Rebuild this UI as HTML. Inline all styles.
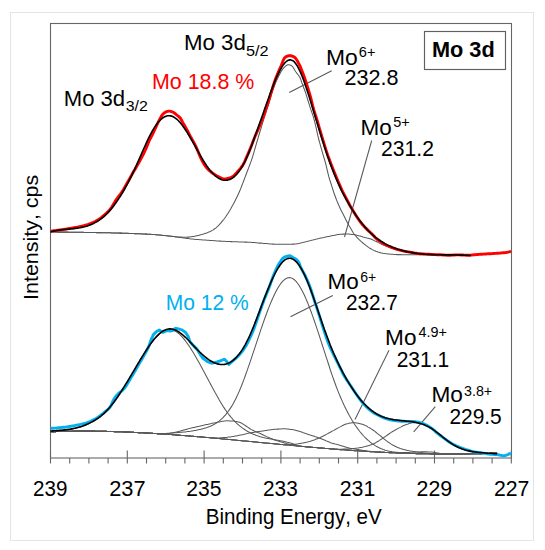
<!DOCTYPE html><html><head><meta charset="utf-8"><style>html,body{margin:0;padding:0;background:#fff;width:545px;height:550px;overflow:hidden}svg{position:absolute;left:0;top:0;display:block}text{font-family:"Liberation Sans",sans-serif;font-kerning:none;white-space:pre}</style></head><body><svg width="545" height="550" viewBox="0 0 545 550"><rect x="10.5" y="12.5" width="523" height="528" fill="none" stroke="#e4e4e4" stroke-width="1"/><rect x="50.5" y="23.5" width="461" height="434.5" fill="none" stroke="#666666" stroke-width="1.1"/><path d="M50.5,450.5V463.5M69.7,458V463.5M88.9,458V463.5M108.1,458V463.5M127.3,450.5V463.5M146.5,458V463.5M165.7,458V463.5M184.9,458V463.5M204.1,450.5V463.5M223.3,458V463.5M242.5,458V463.5M261.7,458V463.5M280.9,450.5V463.5M300.1,458V463.5M319.3,458V463.5M338.5,458V463.5M357.7,450.5V463.5M376.9,458V463.5M396.1,458V463.5M415.3,458V463.5M434.5,450.5V463.5M453.7,458V463.5M472.9,458V463.5M492.1,458V463.5M511.3,450.5V463.5" stroke="#666666" stroke-width="1.1" fill="none"/><path d="M50.5,232.0L51.5,232.0L52.5,232.0L53.5,232.0L54.5,232.0L55.5,232.0L56.5,232.0L57.5,232.1L58.5,232.1L59.5,232.1L60.5,232.1L61.5,232.1L62.5,232.1L63.5,232.1L64.5,232.1L65.5,232.1L66.5,232.1L67.5,232.1L68.5,232.2L69.5,232.2L70.5,232.2L71.5,232.2L72.5,232.2L73.5,232.2L74.5,232.2L75.5,232.2L76.5,232.3L77.5,232.3L78.5,232.3L79.5,232.3L80.5,232.3L81.5,232.3L82.5,232.3L83.5,232.3L84.5,232.4L85.5,232.4L86.5,232.4L87.5,232.4L88.5,232.4L89.5,232.4L90.5,232.5L91.5,232.5L92.5,232.5L93.6,232.5L94.6,232.5L95.6,232.5L96.6,232.6L97.6,232.6L98.6,232.6L99.6,232.6L100.6,232.6L101.6,232.6L102.6,232.7L103.6,232.7L104.6,232.7L105.6,232.7L106.6,232.8L107.6,232.8L108.6,232.8L109.6,232.8L110.6,232.8L111.6,232.9L112.6,232.9L113.6,232.9L114.6,232.9L115.6,233.0L116.6,233.0L117.6,233.0L118.6,233.0L119.6,233.1L120.6,233.1L121.6,233.1L122.6,233.2L123.6,233.2L124.6,233.2L125.6,233.2L126.6,233.3L127.6,233.3L128.6,233.3L129.6,233.4L130.6,233.4L131.6,233.5L132.6,233.5L133.6,233.5L134.6,233.6L135.6,233.6L136.6,233.6L137.6,233.7L138.6,233.7L139.6,233.8L140.6,233.8L141.6,233.9L142.6,233.9L143.6,234.0L144.6,234.0L145.6,234.1L146.6,234.1L147.6,234.2L148.6,234.2L149.6,234.3L150.6,234.3L151.6,234.4L152.6,234.5L153.6,234.5L154.6,234.6L155.6,234.7L156.6,234.8L157.6,234.9L158.6,235.0L159.6,235.1L160.6,235.2L161.6,235.3L162.6,235.4L163.6,235.5L164.6,235.6L165.6,235.7L166.6,235.8L167.6,235.9L168.6,236.0L169.6,236.2L170.6,236.3L171.6,236.4L172.6,236.5L173.6,236.6L174.6,236.8L175.6,236.9L176.7,237.1L177.7,237.2L178.7,237.3L179.7,237.5L180.7,237.6L181.7,237.7L182.7,237.8L183.7,238.0L184.7,238.1L185.7,238.3L186.7,238.4L187.7,238.5L188.7,238.6L189.7,238.8L190.7,238.9L191.7,239.0L192.7,239.1L193.7,239.2L194.7,239.3L195.7,239.4L196.7,239.4L197.7,239.5L198.7,239.6L199.7,239.7L200.7,239.7L201.7,239.8L202.7,239.9L203.7,240.0L204.7,240.0L205.7,240.1L206.7,240.2L207.7,240.2L208.7,240.3L209.7,240.4L210.7,240.5L211.7,240.5L212.7,240.6L213.7,240.7L214.7,240.8L215.7,240.8L216.7,240.9L217.7,241.0L218.7,241.0L219.7,241.1L220.7,241.1L221.7,241.2L222.7,241.2L223.7,241.3L224.7,241.3L225.7,241.4L226.7,241.4L227.7,241.4L228.7,241.5L229.7,241.5L230.7,241.6L231.7,241.6L232.7,241.7L233.7,241.7L234.7,241.7L235.7,241.8L236.7,241.8L237.7,241.8L238.7,241.9L239.7,241.9L240.7,241.9L241.7,242.0L242.7,242.0L243.7,242.0L244.7,242.1L245.7,242.1L246.7,242.1L247.7,242.2L248.7,242.2L249.7,242.3L250.7,242.3L251.7,242.4L252.7,242.5L253.7,242.5L254.7,242.6L255.7,242.7L256.7,242.8L257.7,242.9L258.7,243.0L259.7,243.1L260.8,243.1L261.8,243.2L262.8,243.3L263.8,243.4L264.8,243.5L265.8,243.5L266.8,243.6L267.8,243.7L268.8,243.8L269.8,243.9L270.8,244.0L271.8,244.0L272.8,244.1L273.8,244.1L274.8,244.2L275.8,244.2L276.8,244.2L277.8,244.2L278.8,244.2L279.8,244.3L280.8,244.3L281.8,244.3L282.8,244.3L283.8,244.3L284.8,244.3L285.8,244.3L286.8,244.3L287.8,244.3L288.8,244.3L289.8,244.3L290.8,244.3L291.8,244.2L292.8,244.1L293.8,244.1L294.8,244.0L295.8,243.9L296.8,243.8L297.8,243.7L298.8,243.5L299.8,243.3L300.8,243.0L301.8,242.8L302.8,242.6L303.8,242.3L304.8,242.0L305.8,241.8L306.8,241.5L307.8,241.3L308.8,241.1L309.8,240.8L310.8,240.6L311.8,240.3L312.8,240.1L313.8,239.8L314.8,239.6L315.8,239.3L316.8,239.1L317.8,238.8L318.8,238.6L319.8,238.3L320.8,238.1L321.8,237.9L322.8,237.7L323.8,237.5L324.8,237.2L325.8,237.0L326.8,236.8L327.8,236.6L328.8,236.4L329.8,236.2L330.8,236.0L331.8,235.8L332.8,235.6L333.8,235.4L334.8,235.2L335.8,235.0L336.8,234.8L337.8,234.6L338.8,234.4L339.8,234.3L340.8,234.3L341.8,234.2L342.8,234.1L343.8,234.1L344.9,234.0L345.9,234.0L346.9,234.0L347.9,234.0L348.9,234.1L349.9,234.2L350.9,234.3L351.9,234.4L352.9,234.5L353.9,234.6L354.9,234.8L355.9,235.0L356.9,235.3L357.9,235.5L358.9,235.8L359.9,236.0L360.9,236.3L361.9,236.6L362.9,237.0L363.9,237.3L364.9,237.6L365.9,237.8L366.9,238.1L367.9,238.3L368.9,238.5L369.9,238.8L370.9,239.1L371.9,239.5L372.9,239.9L373.9,240.4L374.9,240.9L375.9,241.3L376.9,241.8L377.9,242.4L378.9,242.9L379.9,243.4L380.9,243.9L381.9,244.4L382.9,244.8L383.9,245.2L384.9,245.6L385.9,245.9L386.9,246.3L387.9,246.6L388.9,246.9L389.9,247.2L390.9,247.4L391.9,247.7L392.9,248.0L393.9,248.3L394.9,248.6L395.9,248.9L396.9,249.2L397.9,249.5L398.9,249.7L399.9,250.0L400.9,250.3L401.9,250.5L402.9,250.8L403.9,251.0L404.9,251.2L405.9,251.4L406.9,251.6L407.9,251.8L408.9,252.0L409.9,252.2L410.9,252.3L411.9,252.5L412.9,252.7L413.9,252.8L414.9,253.0L415.9,253.1L416.9,253.2L417.9,253.3L418.9,253.4L419.9,253.5L420.9,253.6L421.9,253.7L422.9,253.8L423.9,253.9L424.9,254.0L425.9,254.1L426.9,254.2L427.9,254.3L428.9,254.4L430.0,254.4L431.0,254.5L432.0,254.6L433.0,254.6L434.0,254.7L435.0,254.7L436.0,254.7L437.0,254.8L438.0,254.8L439.0,254.9L440.0,254.9L441.0,254.9L442.0,255.0L443.0,255.0L444.0,255.0L445.0,255.1L446.0,255.1L447.0,255.1L448.0,255.2L449.0,255.2L450.0,255.2L451.0,255.2L452.0,255.2L453.0,255.2L454.0,255.2L455.0,255.2L456.0,255.2L457.0,255.3L458.0,255.3L459.0,255.3L460.0,255.3L461.0,255.3L462.0,255.3L463.0,255.3L464.0,255.3L465.0,255.3L466.0,255.3L467.0,255.3L468.0,255.3L469.0,255.3L470.0,255.3L471.0,255.3" stroke="#585858" stroke-width="1.05" fill="none"/><path d="M50.5,232.0L51.5,232.0L52.5,232.0L53.5,232.0L54.5,232.0L55.5,232.0L56.5,232.0L57.5,232.1L58.5,232.1L59.5,232.1L60.5,232.1L61.5,232.1L62.5,232.1L63.5,232.1L64.5,232.1L65.5,232.1L66.5,232.1L67.5,232.1L68.5,232.2L69.5,232.2L70.5,232.2L71.5,232.2L72.5,232.2L73.5,232.2L74.5,232.2L75.5,232.2L76.5,232.3L77.5,232.3L78.5,232.3L79.5,232.3L80.5,232.3L81.5,232.3L82.5,232.3L83.5,232.3L84.5,232.4L85.5,232.4L86.5,232.4L87.5,232.4L88.5,232.4L89.5,232.4L90.5,232.5L91.5,232.5L92.5,232.5L93.6,232.5L94.6,232.5L95.6,232.5L96.6,232.6L97.6,232.6L98.6,232.6L99.6,232.6L100.6,232.6L101.6,232.6L102.6,232.7L103.6,232.7L104.6,232.7L105.6,232.7L106.6,232.8L107.6,232.8L108.6,232.8L109.6,232.8L110.6,232.8L111.6,232.9L112.6,232.9L113.6,232.9L114.6,232.9L115.6,233.0L116.6,233.0L117.6,233.0L118.6,233.0L119.6,233.1L120.6,233.1L121.6,233.1L122.6,233.2L123.6,233.2L124.6,233.2L125.6,233.3L126.6,233.3L127.6,233.3L128.6,233.4L129.6,233.4L130.6,233.4L131.6,233.5L132.6,233.5L133.6,233.5L134.6,233.6L135.6,233.6L136.6,233.7L137.6,233.7L138.6,233.7L139.6,233.8L140.6,233.8L141.6,233.9L142.6,233.9L143.6,234.0L144.6,234.0L145.6,234.1L146.6,234.1L147.6,234.2L148.6,234.2L149.6,234.3L150.6,234.3L151.6,234.4L152.6,234.5L153.6,234.5L154.6,234.6L155.6,234.7L156.6,234.8L157.6,234.8L158.6,234.9L159.6,235.0L160.6,235.1L161.6,235.2L162.6,235.3L163.6,235.4L164.6,235.5L165.6,235.6L166.6,235.7L167.6,235.8L168.6,235.9L169.6,236.0L170.6,236.1L171.6,236.2L172.6,236.3L173.6,236.5L174.6,236.6L175.6,236.7L176.7,236.8L177.7,237.0L178.7,237.0L179.7,237.1L180.7,237.1L181.7,237.1L182.7,237.2L183.7,237.2L184.7,237.2L185.7,237.2L186.7,237.2L187.7,237.1L188.7,237.1L189.7,236.9L190.7,236.8L191.7,236.7L192.7,236.5L193.7,236.4L194.7,236.2L195.7,236.0L196.7,235.8L197.7,235.6L198.7,235.4L199.7,235.1L200.7,234.8L201.7,234.6L202.7,234.3L203.7,234.0L204.7,233.6L205.7,233.3L206.7,233.0L207.7,232.6L208.7,232.1L209.7,231.7L210.7,231.2L211.7,230.6L212.7,230.1L213.7,229.5L214.7,228.8L215.7,228.1L216.7,227.2L217.7,226.3L218.7,225.3L219.7,224.2L220.7,223.1L221.7,221.9L222.7,220.7L223.7,219.5L224.7,218.2L225.7,216.8L226.7,215.3L227.7,213.8L228.7,212.2L229.7,210.6L230.7,208.9L231.7,207.1L232.7,205.3L233.7,203.4L234.7,201.5L235.7,199.6L236.7,197.6L237.7,195.5L238.7,193.3L239.7,191.0L240.7,188.6L241.7,186.0L242.7,183.4L243.7,180.7L244.7,178.1L245.7,175.5L246.7,172.8L247.7,170.2L248.7,167.6L249.7,165.0L250.7,162.4L251.7,159.6L252.7,156.4L253.7,153.1L254.7,149.6L255.7,146.2L256.7,142.7L257.7,139.3L258.7,135.9L259.7,132.5L260.8,129.1L261.8,125.7L262.8,122.4L263.8,119.2L264.8,116.1L265.8,113.0L266.8,109.9L267.8,106.8L268.8,103.5L269.8,100.0L270.8,96.5L271.8,93.1L272.8,90.0L273.8,87.3L274.8,84.7L275.8,82.4L276.8,80.1L277.8,78.0L278.8,76.1L279.8,74.1L280.8,72.1L281.8,70.4L282.8,68.9L283.8,67.8L284.8,66.8L285.8,65.9L286.8,65.2L287.8,64.8L288.8,64.7L289.8,64.9L290.8,65.3L291.8,65.9L292.8,66.8L293.8,68.4L294.8,70.3L295.8,71.8L296.8,73.1L297.8,74.3L298.8,75.7L299.8,77.3L300.8,79.6L301.8,82.6L302.8,85.4L303.8,88.0L304.8,90.5L305.8,93.4L306.8,96.7L307.8,100.0L308.8,103.2L309.8,106.4L310.8,109.4L311.8,112.3L312.8,115.2L313.8,118.4L314.8,122.1L315.8,126.4L316.8,130.9L317.8,135.4L318.8,139.5L319.8,143.2L320.8,146.9L321.8,150.4L322.8,153.9L323.8,157.2L324.8,160.5L325.8,164.1L326.8,168.3L327.8,172.6L328.8,176.7L329.8,180.0L330.8,183.0L331.8,186.2L332.8,189.4L333.8,192.5L334.8,195.3L335.8,198.0L336.8,200.6L337.8,203.0L338.8,205.3L339.8,207.6L340.8,209.7L341.8,211.7L342.8,213.6L343.8,215.6L344.9,217.7L345.9,219.7L346.9,221.7L347.9,223.6L348.9,225.4L349.9,227.1L350.9,228.8L351.9,230.5L352.9,232.2L353.9,233.7L354.9,235.0L355.9,236.2L356.9,237.3L357.9,238.4L358.9,239.4L359.9,240.3L360.9,241.3L361.9,242.1L362.9,243.0L363.9,243.8L364.9,244.6L365.9,245.4L366.9,246.1L367.9,246.9L368.9,247.6L369.9,248.2L370.9,248.8L371.9,249.4L372.9,249.9L373.9,250.4L374.9,250.8L375.9,251.3L376.9,251.6L377.9,252.0L378.9,252.3L379.9,252.6L380.9,252.9L381.9,253.1L382.9,253.3L383.9,253.4L384.9,253.6L385.9,253.7L386.9,253.8L387.9,253.9L388.9,254.0L389.9,254.1L390.9,254.2L391.9,254.3L392.9,254.3L393.9,254.4L394.9,254.5L395.9,254.5L396.9,254.6L397.9,254.6L398.9,254.6L399.9,254.6L400.9,254.6L401.9,254.7L402.9,254.7L403.9,254.7L404.9,254.7L405.9,254.7L406.9,254.7L407.9,254.7L408.9,254.7L409.9,254.7L410.9,254.7L411.9,254.7L412.9,254.7L413.9,254.7L414.9,254.7L415.9,254.7L416.9,254.7L417.9,254.6L418.9,254.6L419.9,254.6L420.9,254.6L421.9,254.6L422.9,254.6L423.9,254.6L424.9,254.6L425.9,254.6L426.9,254.6L427.9,254.6L428.9,254.6L430.0,254.6L431.0,254.6L432.0,254.6L433.0,254.6L434.0,254.6L435.0,254.6L436.0,254.6L437.0,254.6L438.0,254.6L439.0,254.6L440.0,254.6L441.0,254.7L442.0,254.7L443.0,254.7L444.0,254.7L445.0,254.7L446.0,254.7L447.0,254.7L448.0,254.7L449.0,254.7L450.0,254.7L451.0,254.7L452.0,254.8L453.0,254.8L454.0,254.8L455.0,254.8L456.0,254.8L457.0,254.8L458.0,254.8L459.0,254.9L460.0,254.9L461.0,254.9L462.0,254.9L463.0,254.9L464.0,255.0L465.0,255.0L466.0,255.0L467.0,255.0L468.0,255.0L469.0,255.1L470.0,255.1L471.0,255.1" stroke="#585858" stroke-width="1.05" fill="none"/><path d="M50.5,431.8L51.5,431.7L52.5,431.7L53.5,431.6L54.5,431.6L55.5,431.6L56.5,431.5L57.5,431.5L58.5,431.5L59.5,431.4L60.5,431.4L61.5,431.4L62.5,431.4L63.5,431.3L64.5,431.3L65.5,431.3L66.5,431.3L67.5,431.2L68.5,431.2L69.5,431.2L70.5,431.2L71.5,431.2L72.5,431.2L73.5,431.1L74.5,431.1L75.5,431.1L76.5,431.1L77.5,431.1L78.5,431.1L79.5,431.1L80.5,431.1L81.5,431.1L82.5,431.1L83.5,431.1L84.5,431.1L85.5,431.1L86.5,431.1L87.5,431.1L88.5,431.1L89.5,431.1L90.5,431.1L91.5,431.1L92.5,431.1L93.5,431.1L94.5,431.1L95.5,431.2L96.5,431.2L97.5,431.2L98.5,431.2L99.5,431.2L100.5,431.2L101.5,431.2L102.5,431.3L103.5,431.3L104.5,431.3L105.5,431.3L106.4,431.3L107.4,431.4L108.4,431.4L109.4,431.4L110.4,431.5L111.4,431.5L112.4,431.5L113.4,431.5L114.4,431.6L115.4,431.6L116.4,431.6L117.4,431.7L118.4,431.7L119.4,431.7L120.4,431.8L121.4,431.8L122.4,431.8L123.4,431.9L124.4,431.9L125.4,432.0L126.4,432.0L127.4,432.0L128.4,432.1L129.4,432.1L130.4,432.2L131.4,432.2L132.4,432.3L133.4,432.3L134.4,432.4L135.4,432.4L136.4,432.5L137.4,432.5L138.4,432.6L139.4,432.6L140.4,432.7L141.4,432.7L142.4,432.8L143.4,432.8L144.4,432.9L145.4,432.9L146.4,433.0L147.4,433.0L148.4,433.1L149.4,433.2L150.4,433.2L151.4,433.3L152.4,433.3L153.4,433.4L154.4,433.5L155.4,433.5L156.4,433.6L157.4,433.7L158.4,433.7L159.4,433.8L160.4,433.8L161.4,433.9L162.4,434.0L163.4,434.0L164.4,434.1L165.4,434.2L166.4,434.3L167.4,434.3L168.4,434.4L169.4,434.5L170.4,434.5L171.4,434.6L172.4,434.7L173.4,434.8L174.4,434.8L175.4,434.9L176.4,435.0L177.4,435.1L178.4,435.1L179.4,435.2L180.4,435.3L181.4,435.4L182.4,435.4L183.4,435.5L184.4,435.6L185.4,435.7L186.4,435.8L187.4,435.8L188.4,435.9L189.4,436.0L190.4,436.1L191.4,436.2L192.4,436.2L193.4,436.3L194.4,436.4L195.4,436.5L196.4,436.6L197.4,436.7L198.4,436.7L199.4,436.8L200.4,436.9L201.4,437.0L202.4,437.1L203.4,437.2L204.4,437.3L205.4,437.4L206.4,437.4L207.4,437.5L208.4,437.6L209.4,437.7L210.4,437.8L211.4,437.9L212.4,438.0L213.4,438.1L214.4,438.2L215.4,438.2L216.4,438.3L217.4,438.4L218.3,438.5L219.3,438.6L220.3,438.7L221.3,438.8L222.3,438.9L223.3,439.0L224.3,439.1L225.3,439.2L226.3,439.3L227.3,439.3L228.3,439.4L229.3,439.5L230.3,439.6L231.3,439.7L232.3,439.8L233.3,439.9L234.3,440.0L235.3,440.1L236.3,440.2L237.3,440.3L238.3,440.4L239.3,440.5L240.3,440.6L241.3,440.7L242.3,440.8L243.3,440.9L244.3,441.0L245.3,441.0L246.3,441.1L247.3,441.2L248.3,441.3L249.3,441.4L250.3,441.5L251.3,441.6L252.3,441.7L253.3,441.8L254.3,441.9L255.3,442.0L256.3,442.1L257.3,442.2L258.3,442.3L259.3,442.4L260.3,442.5L261.3,442.6L262.3,442.7L263.3,442.8L264.3,442.9L265.3,443.0L266.3,443.1L267.3,443.2L268.3,443.2L269.3,443.3L270.3,443.4L271.3,443.5L272.3,443.6L273.3,443.7L274.3,443.8L275.3,443.9L276.3,444.0L277.3,444.1L278.3,444.2L279.3,444.3L280.3,444.4L281.3,444.5L282.3,444.6L283.3,444.7L284.3,444.8L285.3,444.9L286.3,444.9L287.3,445.0L288.3,445.1L289.3,445.2L290.3,445.3L291.3,445.4L292.3,445.5L293.3,445.6L294.3,445.7L295.3,445.8L296.3,445.9L297.3,446.0L298.3,446.0L299.3,446.1L300.3,446.2L301.3,446.3L302.3,446.4L303.3,446.5L304.3,446.6L305.3,446.7L306.3,446.8L307.3,446.9L308.3,446.9L309.3,447.0L310.3,447.1L311.3,447.2L312.3,447.3L313.3,447.4L314.3,447.5L315.3,447.5L316.3,447.6L317.3,447.7L318.3,447.8L319.3,447.9L320.3,448.0L321.3,448.0L322.3,448.1L323.3,448.2L324.3,448.3L325.3,448.4L326.3,448.5L327.3,448.5L328.3,448.6L329.3,448.7L330.2,448.8L331.2,448.9L332.2,448.9L333.2,449.0L334.2,449.1L335.2,449.2L336.2,449.2L337.2,449.3L338.2,449.4L339.2,449.5L340.2,449.6L341.2,449.6L342.2,449.7L343.2,449.8L344.2,449.8L345.2,449.9L346.2,450.0L347.2,450.1L348.2,450.1L349.2,450.2L350.2,450.3L351.2,450.3L352.2,450.4L353.2,450.5L354.2,450.6L355.2,450.6L356.2,450.7L357.2,450.8L358.2,450.8L359.2,450.9L360.2,451.0L361.2,451.0L362.2,451.1L363.2,451.1L364.2,451.2L365.2,451.3L366.2,451.3L367.2,451.4L368.2,451.4L369.2,451.5L370.2,451.6L371.2,451.6L372.2,451.7L373.2,451.7L374.2,451.8L375.2,451.9L376.2,451.9L377.2,452.0L378.2,452.0L379.2,452.1L380.2,452.1L381.2,452.2L382.2,452.2L383.2,452.3L384.2,452.3L385.2,452.4L386.2,452.4L387.2,452.5L388.2,452.5L389.2,452.6L390.2,452.6L391.2,452.7L392.2,452.7L393.2,452.7L394.2,452.8L395.2,452.8L396.2,452.9L397.2,452.9L398.2,452.9L399.2,453.0L400.2,453.0L401.2,453.1L402.2,453.1L403.2,453.1L404.2,453.2L405.2,453.2L406.2,453.2L407.2,453.3L408.2,453.3L409.2,453.3L410.2,453.4L411.2,453.4L412.2,453.4L413.2,453.5L414.2,453.5L415.2,453.5L416.2,453.6L417.2,453.6L418.2,453.6L419.2,453.6L420.2,453.7L421.2,453.7L422.2,453.7L423.2,453.7L424.2,453.7L425.2,453.8L426.2,453.8L427.2,453.8L428.2,453.8L429.2,453.8L430.2,453.9L431.2,453.9L432.2,453.9L433.2,453.9L434.2,453.9L435.2,453.9L436.2,453.9L437.2,453.9L438.2,454.0L439.2,454.0L440.2,454.0L441.2,454.0L442.1,454.0L443.1,454.0L444.1,454.0L445.1,454.0L446.1,454.0L447.1,454.0L448.1,454.0L449.1,454.0L450.1,454.0L451.1,454.0L452.1,454.0L453.1,454.0L454.1,454.0L455.1,454.0L456.1,454.0L457.1,454.0L458.1,454.0L459.1,454.0L460.1,454.0L461.1,454.0L462.1,454.0L463.1,453.9L464.1,453.9L465.1,453.9L466.1,453.9L467.1,453.9L468.1,453.9L469.1,453.9L470.1,453.8L471.1,453.8L472.1,453.8L473.1,453.8L474.1,453.8L475.1,453.8L476.1,453.7L477.1,453.7L478.1,453.7L479.1,453.7L480.1,453.6L481.1,453.6L482.1,453.6L483.1,453.5L484.1,453.5L485.1,453.5L486.1,453.5L487.1,453.4L488.1,453.4L489.1,453.4L490.1,453.3L491.1,453.3L492.1,453.3L493.1,453.2L494.1,453.2L495.1,453.1L496.1,453.1L497.1,453.1" stroke="#585858" stroke-width="1.05" fill="none"/><path d="M50.5,431.8L51.5,431.6L52.5,431.5L53.5,431.4L54.5,431.3L55.5,431.2L56.5,431.0L57.5,430.9L58.5,430.8L59.5,430.7L60.5,430.6L61.5,430.5L62.5,430.4L63.5,430.2L64.5,430.1L65.5,430.0L66.5,429.8L67.5,429.7L68.5,429.5L69.5,429.4L70.5,429.2L71.5,429.0L72.5,428.9L73.5,428.7L74.5,428.5L75.5,428.2L76.5,428.0L77.5,427.7L78.5,427.5L79.5,427.2L80.5,426.9L81.5,426.6L82.5,426.3L83.5,425.9L84.5,425.6L85.5,425.2L86.5,424.8L87.5,424.3L88.5,423.9L89.5,423.4L90.5,422.9L91.5,422.4L92.5,421.8L93.5,421.3L94.5,420.7L95.5,420.0L96.5,419.4L97.5,418.7L98.5,418.0L99.5,417.3L100.5,416.5L101.5,415.7L102.5,414.8L103.5,414.0L104.5,413.1L105.5,412.1L106.4,411.1L107.4,410.1L108.4,409.1L109.4,408.0L110.4,406.9L111.4,405.7L112.4,404.5L113.4,403.3L114.4,402.0L115.4,400.6L116.4,399.3L117.4,397.8L118.4,396.4L119.4,394.9L120.4,393.4L121.4,391.8L122.4,390.2L123.4,388.6L124.4,387.0L125.4,385.3L126.4,383.6L127.4,382.0L128.4,380.2L129.4,378.5L130.4,376.8L131.4,375.1L132.4,373.3L133.4,371.6L134.4,369.8L135.4,368.1L136.4,366.4L137.4,364.7L138.4,362.9L139.4,361.3L140.4,359.6L141.4,357.9L142.4,356.3L143.4,354.7L144.4,353.1L145.4,351.5L146.4,350.0L147.4,348.5L148.4,347.0L149.4,345.6L150.4,344.2L151.4,342.9L152.4,341.6L153.4,340.4L154.4,339.2L155.4,338.1L156.4,337.0L157.4,336.0L158.4,335.1L159.4,334.2L160.4,333.4L161.4,332.6L162.4,332.0L163.4,331.4L164.4,330.9L165.4,330.4L166.4,330.1L167.4,329.9L168.4,329.7L169.4,329.6L170.4,329.6L171.4,329.8L172.4,330.0L173.4,330.3L174.4,330.7L175.4,331.3L176.4,331.9L177.4,332.6L178.4,333.3L179.4,334.2L180.4,335.1L181.4,336.1L182.4,337.2L183.4,338.4L184.4,339.6L185.4,340.9L186.4,342.2L187.4,343.6L188.4,345.0L189.4,346.5L190.4,348.0L191.4,349.6L192.4,351.2L193.4,352.8L194.4,354.5L195.4,356.2L196.4,357.9L197.4,359.7L198.4,361.5L199.4,363.3L200.4,365.1L201.4,366.9L202.4,368.8L203.4,370.7L204.4,372.5L205.4,374.4L206.4,376.3L207.4,378.2L208.4,380.1L209.4,382.0L210.4,383.8L211.4,385.7L212.4,387.6L213.4,389.4L214.4,391.2L215.4,393.1L216.4,394.8L217.4,396.6L218.3,398.3L219.3,400.1L220.3,401.7L221.3,403.4L222.3,405.0L223.3,406.6L224.3,408.1L225.3,409.6L226.3,411.0L227.3,412.4L228.3,413.8L229.3,415.1L230.3,416.3L231.3,417.5L232.3,418.7L233.3,419.8L234.3,420.8L235.3,421.9L236.3,422.8L237.3,423.8L238.3,424.7L239.3,425.6L240.3,426.4L241.3,427.2L242.3,427.9L243.3,428.6L244.3,429.3L245.3,430.0L246.3,430.6L247.3,431.2L248.3,431.8L249.3,432.3L250.3,432.8L251.3,433.3L252.3,433.8L253.3,434.2L254.3,434.6L255.3,435.0L256.3,435.4L257.3,435.7L258.3,436.1L259.3,436.4L260.3,436.7L261.3,436.9L262.3,437.2L263.3,437.5L264.3,437.7L265.3,437.9L266.3,438.2L267.3,438.4L268.3,438.6L269.3,438.8L270.3,438.9L271.3,439.1L272.3,439.3L273.3,439.5L274.3,439.7L275.3,439.8L276.3,440.0L277.3,440.2L278.3,440.3L279.3,440.5L280.3,440.7L281.3,440.9L282.3,441.1L283.3,441.3L284.3,441.5L285.3,441.7L286.3,441.9L287.3,442.2L288.3,442.4L289.3,442.7L290.3,443.0L291.3,443.3L292.3,443.6L293.3,443.9L294.3,444.3L295.3,444.6L296.3,445.0L297.3,445.4L298.3,445.8L299.3,446.3L300.3,446.2L301.3,446.3L302.3,446.4L303.3,446.5L304.3,446.6L305.3,446.7L306.3,446.8L307.3,446.9L308.3,446.9L309.3,447.0L310.3,447.1L311.3,447.2L312.3,447.3L313.3,447.4L314.3,447.5L315.3,447.5L316.3,447.6L317.3,447.7L318.3,447.8L319.3,447.9L320.3,448.0L321.3,448.0L322.3,448.1L323.3,448.2L324.3,448.3L325.3,448.4L326.3,448.5L327.3,448.5L328.3,448.6L329.3,448.7L330.2,448.8L331.2,448.9L332.2,448.9L333.2,449.0L334.2,449.1L335.2,449.2L336.2,449.2L337.2,449.3L338.2,449.4L339.2,449.5L340.2,449.6L341.2,449.6L342.2,449.7L343.2,449.8L344.2,449.8L345.2,449.9L346.2,450.0L347.2,450.1L348.2,450.1L349.2,450.2L350.2,450.3L351.2,450.3L352.2,450.4L353.2,450.5L354.2,450.6L355.2,450.6L356.2,450.7L357.2,450.8L358.2,450.8L359.2,450.9L360.2,451.0L361.2,451.0L362.2,451.1L363.2,451.1L364.2,451.2L365.2,451.3L366.2,451.3L367.2,451.4L368.2,451.4L369.2,451.5L370.2,451.6L371.2,451.6L372.2,451.7L373.2,451.7L374.2,451.8L375.2,451.9L376.2,451.9L377.2,452.0L378.2,452.0L379.2,452.1L380.2,452.1L381.2,452.2L382.2,452.2L383.2,452.3L384.2,452.3L385.2,452.4L386.2,452.4L387.2,452.5L388.2,452.5L389.2,452.6L390.2,452.6L391.2,452.7L392.2,452.7L393.2,452.7L394.2,452.8L395.2,452.8L396.2,452.9L397.2,452.9L398.2,452.9L399.2,453.0L400.2,453.0L401.2,453.1L402.2,453.1L403.2,453.1L404.2,453.2L405.2,453.2L406.2,453.2L407.2,453.3L408.2,453.3L409.2,453.3L410.2,453.4L411.2,453.4L412.2,453.4L413.2,453.5L414.2,453.5L415.2,453.5L416.2,453.6L417.2,453.6L418.2,453.6L419.2,453.6L420.2,453.7L421.2,453.7L422.2,453.7L423.2,453.7L424.2,453.7L425.2,453.8L426.2,453.8L427.2,453.8L428.2,453.8L429.2,453.8L430.2,453.9L431.2,453.9L432.2,453.9L433.2,453.9L434.2,453.9L435.2,453.9L436.2,453.9L437.2,453.9L438.2,454.0L439.2,454.0L440.2,454.0L441.2,454.0L442.1,454.0L443.1,454.0L444.1,454.0L445.1,454.0L446.1,454.0L447.1,454.0L448.1,454.0L449.1,454.0L450.1,454.0L451.1,454.0L452.1,454.0L453.1,454.0L454.1,454.0L455.1,454.0L456.1,454.0L457.1,454.0L458.1,454.0L459.1,454.0L460.1,454.0L461.1,454.0L462.1,454.0L463.1,453.9L464.1,453.9L465.1,453.9L466.1,453.9L467.1,453.9L468.1,453.9L469.1,453.9L470.1,453.8L471.1,453.8L472.1,453.8L473.1,453.8L474.1,453.8L475.1,453.8L476.1,453.7L477.1,453.7L478.1,453.7L479.1,453.7L480.1,453.6L481.1,453.6L482.1,453.6L483.1,453.5L484.1,453.5L485.1,453.5L486.1,453.5L487.1,453.4L488.1,453.4L489.1,453.4L490.1,453.3L491.1,453.3L492.1,453.3L493.1,453.2L494.1,453.2L495.1,453.1L496.1,453.1L497.1,453.1" stroke="#585858" stroke-width="1.05" fill="none"/><path d="M50.5,431.8L51.5,431.7L52.5,431.7L53.5,431.6L54.5,431.6L55.5,431.6L56.5,431.5L57.5,431.5L58.5,431.5L59.5,431.4L60.5,431.4L61.5,431.4L62.5,431.4L63.5,431.3L64.5,431.3L65.5,431.3L66.5,431.3L67.5,431.2L68.5,431.2L69.5,431.2L70.5,431.2L71.5,431.2L72.5,431.2L73.5,431.1L74.5,431.1L75.5,431.1L76.5,431.1L77.5,431.1L78.5,431.1L79.5,431.1L80.5,431.1L81.5,431.1L82.5,431.1L83.5,431.1L84.5,431.1L85.5,431.1L86.5,431.1L87.5,431.1L88.5,431.1L89.5,431.1L90.5,431.1L91.5,431.1L92.5,431.1L93.5,431.1L94.5,431.1L95.5,431.2L96.5,431.2L97.5,431.2L98.5,431.2L99.5,431.2L100.5,431.2L101.5,431.2L102.5,431.3L103.5,431.3L104.5,431.3L105.5,431.3L106.4,431.3L107.4,431.4L108.4,431.4L109.4,431.4L110.4,431.5L111.4,431.5L112.4,431.5L113.4,431.5L114.4,431.6L115.4,431.6L116.4,431.6L117.4,431.7L118.4,431.7L119.4,431.7L120.4,431.8L121.4,431.8L122.4,431.8L123.4,431.9L124.4,431.9L125.4,432.0L126.4,432.0L127.4,432.0L128.4,432.1L129.4,432.1L130.4,432.2L131.4,432.2L132.4,432.3L133.4,432.3L134.4,432.4L135.4,432.4L136.4,432.5L137.4,432.5L138.4,432.6L139.4,432.6L140.4,432.7L141.4,432.7L142.4,432.8L143.4,432.8L144.4,432.9L145.4,432.9L146.4,433.0L147.4,433.0L148.4,433.1L149.4,433.2L150.4,433.2L151.4,433.3L152.4,433.3L153.4,433.4L154.4,433.5L155.4,433.5L156.4,433.6L157.4,433.7L158.4,434.3L159.4,434.1L160.4,434.0L161.4,433.9L162.4,433.8L163.4,433.7L164.4,433.6L165.4,433.5L166.4,433.4L167.4,433.3L168.4,433.3L169.4,433.2L170.4,433.1L171.4,433.0L172.4,433.0L173.4,432.9L174.4,432.8L175.4,432.7L176.4,432.7L177.4,432.6L178.4,432.5L179.4,432.4L180.4,432.3L181.4,432.3L182.4,432.2L183.4,432.1L184.4,432.0L185.4,431.9L186.4,431.8L187.4,431.6L188.4,431.5L189.4,431.4L190.4,431.3L191.4,431.1L192.4,431.0L193.4,430.8L194.4,430.6L195.4,430.4L196.4,430.2L197.4,430.0L198.4,429.8L199.4,429.6L200.4,429.4L201.4,429.1L202.4,428.9L203.4,428.6L204.4,428.3L205.4,428.0L206.4,427.7L207.4,427.3L208.4,427.0L209.4,426.6L210.4,426.2L211.4,425.7L212.4,425.3L213.4,424.8L214.4,424.2L215.4,423.6L216.4,423.0L217.4,422.3L218.3,421.6L219.3,420.9L220.3,420.1L221.3,419.2L222.3,418.3L223.3,417.3L224.3,416.2L225.3,415.1L226.3,413.9L227.3,412.6L228.3,411.3L229.3,409.9L230.3,408.4L231.3,406.9L232.3,405.2L233.3,403.5L234.3,401.6L235.3,399.7L236.3,397.7L237.3,395.6L238.3,393.4L239.3,391.1L240.3,388.7L241.3,386.3L242.3,383.7L243.3,381.1L244.3,378.4L245.3,375.7L246.3,372.9L247.3,370.1L248.3,367.2L249.3,364.3L250.3,361.4L251.3,358.4L252.3,355.4L253.3,352.4L254.3,349.4L255.3,346.4L256.3,343.4L257.3,340.3L258.3,337.3L259.3,334.3L260.3,331.4L261.3,328.4L262.3,325.5L263.3,322.6L264.3,319.8L265.3,317.0L266.3,314.2L267.3,311.5L268.3,308.9L269.3,306.4L270.3,303.9L271.3,301.5L272.3,299.2L273.3,296.9L274.3,294.8L275.3,292.8L276.3,290.8L277.3,289.0L278.3,287.3L279.3,285.7L280.3,284.2L281.3,282.9L282.3,281.7L283.3,280.7L284.3,279.8L285.3,279.0L286.3,278.4L287.3,278.0L288.3,277.7L289.3,277.6L290.3,277.7L291.3,277.9L292.3,278.4L293.3,279.0L294.3,279.7L295.3,280.7L296.3,281.7L297.3,283.0L298.3,284.3L299.3,285.8L300.3,287.4L301.3,289.2L302.3,291.0L303.3,293.0L304.3,295.1L305.3,297.3L306.3,299.6L307.3,302.0L308.3,304.4L309.3,307.0L310.3,309.6L311.3,312.3L312.3,315.1L313.3,317.9L314.3,320.7L315.3,323.7L316.3,326.6L317.3,329.6L318.3,332.6L319.3,335.7L320.3,338.8L321.3,341.9L322.3,345.0L323.3,348.1L324.3,351.2L325.3,354.3L326.3,357.4L327.3,360.4L328.3,363.5L329.3,366.5L330.2,369.5L331.2,372.5L332.2,375.4L333.2,378.2L334.2,381.0L335.2,383.8L336.2,386.5L337.2,389.1L338.2,391.6L339.2,394.1L340.2,396.5L341.2,398.8L342.2,401.1L343.2,403.3L344.2,405.5L345.2,407.5L346.2,409.6L347.2,411.5L348.2,413.4L349.2,415.3L350.2,417.1L351.2,418.8L352.2,420.5L353.2,422.1L354.2,423.7L355.2,425.2L356.2,426.6L357.2,428.0L358.2,429.4L359.2,430.7L360.2,432.0L361.2,433.2L362.2,434.3L363.2,435.5L364.2,436.5L365.2,437.6L366.2,438.5L367.2,439.5L368.2,440.4L369.2,441.2L370.2,442.1L371.2,442.8L372.2,443.6L373.2,444.3L374.2,444.9L375.2,445.6L376.2,446.2L377.2,446.7L378.2,447.3L379.2,447.8L380.2,448.2L381.2,448.7L382.2,449.1L383.2,449.5L384.2,449.8L385.2,450.2L386.2,450.5L387.2,450.7L388.2,451.0L389.2,451.2L390.2,451.4L391.2,451.6L392.2,451.8L393.2,451.9L394.2,452.0L395.2,452.2L396.2,452.3L397.2,452.3L398.2,452.4L399.2,452.4L400.2,452.5L401.2,452.5L402.2,452.5L403.2,452.5L404.2,452.5L405.2,452.5L406.2,452.5L407.2,452.5L408.2,452.4L409.2,452.4L410.2,452.3L411.2,452.3L412.2,452.2L413.2,452.2L414.2,452.1L415.2,452.1L416.2,452.0L417.2,452.0L418.2,451.9L419.2,451.9L420.2,451.9L421.2,451.8L422.2,451.8L423.2,451.8L424.2,451.8L425.2,451.8L426.2,451.8L427.2,451.8L428.2,451.9L429.2,451.9L430.2,452.0L431.2,452.0L432.2,452.1L433.2,452.2L434.2,452.4L435.2,452.5L436.2,452.7L437.2,452.9L438.2,453.1L439.2,453.3L440.2,454.0L441.2,454.0L442.1,454.0L443.1,454.0L444.1,454.0L445.1,454.0L446.1,454.0L447.1,454.0L448.1,454.0L449.1,454.0L450.1,454.0L451.1,454.0L452.1,454.0L453.1,454.0L454.1,454.0L455.1,454.0L456.1,454.0L457.1,454.0L458.1,454.0L459.1,454.0L460.1,454.0L461.1,454.0L462.1,454.0L463.1,453.9L464.1,453.9L465.1,453.9L466.1,453.9L467.1,453.9L468.1,453.9L469.1,453.9L470.1,453.8L471.1,453.8L472.1,453.8L473.1,453.8L474.1,453.8L475.1,453.8L476.1,453.7L477.1,453.7L478.1,453.7L479.1,453.7L480.1,453.6L481.1,453.6L482.1,453.6L483.1,453.5L484.1,453.5L485.1,453.5L486.1,453.5L487.1,453.4L488.1,453.4L489.1,453.4L490.1,453.3L491.1,453.3L492.1,453.3L493.1,453.2L494.1,453.2L495.1,453.1L496.1,453.1L497.1,453.1" stroke="#585858" stroke-width="1.05" fill="none"/><path d="M50.5,431.8L51.5,431.7L52.5,431.7L53.5,431.6L54.5,431.6L55.5,431.6L56.5,431.5L57.5,431.5L58.5,431.5L59.5,431.4L60.5,431.4L61.5,431.4L62.5,431.4L63.5,431.3L64.5,431.3L65.5,431.3L66.5,431.3L67.5,431.2L68.5,431.2L69.5,431.2L70.5,431.2L71.5,431.2L72.5,431.2L73.5,431.1L74.5,431.1L75.5,431.1L76.5,431.1L77.5,431.1L78.5,431.1L79.5,431.1L80.5,431.1L81.5,431.1L82.5,431.1L83.5,431.1L84.5,431.1L85.5,431.1L86.5,431.1L87.5,431.1L88.5,431.1L89.5,431.1L90.5,431.1L91.5,431.1L92.5,431.1L93.5,431.1L94.5,431.1L95.5,431.2L96.5,431.2L97.5,431.2L98.5,431.2L99.5,431.2L100.5,431.2L101.5,431.2L102.5,431.3L103.5,431.3L104.5,431.3L105.5,431.3L106.4,431.3L107.4,431.4L108.4,431.4L109.4,431.4L110.4,431.5L111.4,431.5L112.4,431.5L113.4,431.5L114.4,431.6L115.4,431.6L116.4,431.6L117.4,431.7L118.4,431.7L119.4,431.7L120.4,431.8L121.4,431.8L122.4,431.8L123.4,431.9L124.4,431.9L125.4,432.0L126.4,432.0L127.4,432.0L128.4,432.1L129.4,432.1L130.4,432.2L131.4,432.2L132.4,432.3L133.4,432.3L134.4,432.4L135.4,432.4L136.4,432.5L137.4,432.5L138.4,432.6L139.4,432.6L140.4,432.7L141.4,432.7L142.4,432.8L143.4,432.8L144.4,432.9L145.4,432.9L146.4,433.0L147.4,433.0L148.4,433.1L149.4,433.2L150.4,433.2L151.4,433.3L152.4,433.3L153.4,433.4L154.4,433.4L155.4,433.5L156.4,433.5L157.4,433.5L158.4,433.6L159.4,433.6L160.4,433.6L161.4,433.6L162.4,433.7L163.4,433.7L164.4,433.7L165.4,433.7L166.4,433.7L167.4,433.7L168.4,433.6L169.4,433.5L170.4,433.3L171.4,433.1L172.4,432.9L173.4,432.6L174.4,432.4L175.4,432.2L176.4,432.0L177.4,431.8L178.4,431.5L179.4,431.2L180.4,431.0L181.4,430.7L182.4,430.4L183.4,430.1L184.4,429.9L185.4,429.6L186.4,429.4L187.4,429.1L188.4,428.8L189.4,428.6L190.4,428.3L191.4,428.1L192.4,427.8L193.4,427.6L194.4,427.4L195.4,427.1L196.4,426.9L197.4,426.6L198.4,426.4L199.4,426.2L200.4,425.9L201.4,425.7L202.4,425.5L203.4,425.3L204.4,425.0L205.4,424.8L206.4,424.6L207.4,424.4L208.4,424.2L209.4,424.0L210.4,423.8L211.4,423.6L212.4,423.3L213.4,423.1L214.4,422.9L215.4,422.7L216.4,422.5L217.4,422.3L218.3,422.1L219.3,421.9L220.3,421.7L221.3,421.5L222.3,421.3L223.3,421.2L224.3,421.0L225.3,420.9L226.3,420.8L227.3,420.8L228.3,420.8L229.3,420.9L230.3,420.9L231.3,421.0L232.3,421.0L233.3,421.1L234.3,421.3L235.3,421.4L236.3,421.6L237.3,421.8L238.3,422.0L239.3,422.2L240.3,422.5L241.3,423.0L242.3,423.6L243.3,424.3L244.3,424.9L245.3,425.5L246.3,426.2L247.3,426.9L248.3,427.6L249.3,428.3L250.3,429.0L251.3,429.6L252.3,430.1L253.3,430.5L254.3,431.0L255.3,431.4L256.3,431.8L257.3,432.2L258.3,432.7L259.3,433.1L260.3,433.5L261.3,434.0L262.3,434.5L263.3,435.0L264.3,435.5L265.3,435.9L266.3,436.4L267.3,436.9L268.3,437.3L269.3,437.7L270.3,438.2L271.3,438.6L272.3,439.0L273.3,439.4L274.3,439.8L275.3,440.2L276.3,440.5L277.3,440.8L278.3,441.1L279.3,441.4L280.3,441.7L281.3,442.0L282.3,442.3L283.3,442.6L284.3,442.9L285.3,443.1L286.3,443.4L287.3,443.7L288.3,443.9L289.3,444.2L290.3,444.4L291.3,444.6L292.3,444.9L293.3,445.1L294.3,445.3L295.3,445.5L296.3,445.6L297.3,445.8L298.3,446.0L299.3,446.1L300.3,446.2L301.3,446.3L302.3,446.4L303.3,446.5L304.3,446.6L305.3,446.7L306.3,446.8L307.3,446.9L308.3,446.9L309.3,447.0L310.3,447.1L311.3,447.2L312.3,447.3L313.3,447.4L314.3,447.5L315.3,447.5L316.3,447.6L317.3,447.7L318.3,447.8L319.3,447.9L320.3,448.0L321.3,448.0L322.3,448.1L323.3,448.2L324.3,448.3L325.3,448.4L326.3,448.5L327.3,448.5L328.3,448.6L329.3,448.7L330.2,448.8L331.2,448.9L332.2,448.9L333.2,449.0L334.2,449.1L335.2,449.2L336.2,449.2L337.2,449.3L338.2,449.4L339.2,449.5L340.2,449.6L341.2,449.6L342.2,449.7L343.2,449.8L344.2,449.8L345.2,449.9L346.2,450.0L347.2,450.1L348.2,450.1L349.2,450.2L350.2,450.3L351.2,450.3L352.2,450.4L353.2,450.5L354.2,450.6L355.2,450.6L356.2,450.7L357.2,450.8L358.2,450.8L359.2,450.9L360.2,451.0L361.2,451.0L362.2,451.1L363.2,451.1L364.2,451.2L365.2,451.3L366.2,451.3L367.2,451.4L368.2,451.4L369.2,451.5L370.2,451.6L371.2,451.6L372.2,451.7L373.2,451.7L374.2,451.8L375.2,451.9L376.2,451.9L377.2,452.0L378.2,452.0L379.2,452.1L380.2,452.1L381.2,452.2L382.2,452.2L383.2,452.3L384.2,452.3L385.2,452.4L386.2,452.4L387.2,452.5L388.2,452.5L389.2,452.6L390.2,452.6L391.2,452.7L392.2,452.7L393.2,452.7L394.2,452.8L395.2,452.8L396.2,452.9L397.2,452.9L398.2,452.9L399.2,453.0L400.2,453.0L401.2,453.1L402.2,453.1L403.2,453.1L404.2,453.2L405.2,453.2L406.2,453.2L407.2,453.3L408.2,453.3L409.2,453.3L410.2,453.4L411.2,453.4L412.2,453.4L413.2,453.5L414.2,453.5L415.2,453.5L416.2,453.6L417.2,453.6L418.2,453.6L419.2,453.6L420.2,453.7L421.2,453.7L422.2,453.7L423.2,453.7L424.2,453.7L425.2,453.8L426.2,453.8L427.2,453.8L428.2,453.8L429.2,453.8L430.2,453.9L431.2,453.9L432.2,453.9L433.2,453.9L434.2,453.9L435.2,453.9L436.2,453.9L437.2,453.9L438.2,454.0L439.2,454.0L440.2,454.0L441.2,454.0L442.1,454.0L443.1,454.0L444.1,454.0L445.1,454.0L446.1,454.0L447.1,454.0L448.1,454.0L449.1,454.0L450.1,454.0L451.1,454.0L452.1,454.0L453.1,454.0L454.1,454.0L455.1,454.0L456.1,454.0L457.1,454.0L458.1,454.0L459.1,454.0L460.1,454.0L461.1,454.0L462.1,454.0L463.1,453.9L464.1,453.9L465.1,453.9L466.1,453.9L467.1,453.9L468.1,453.9L469.1,453.9L470.1,453.8L471.1,453.8L472.1,453.8L473.1,453.8L474.1,453.8L475.1,453.8L476.1,453.7L477.1,453.7L478.1,453.7L479.1,453.7L480.1,453.6L481.1,453.6L482.1,453.6L483.1,453.5L484.1,453.5L485.1,453.5L486.1,453.5L487.1,453.4L488.1,453.4L489.1,453.4L490.1,453.3L491.1,453.3L492.1,453.3L493.1,453.2L494.1,453.2L495.1,453.1L496.1,453.1L497.1,453.1" stroke="#585858" stroke-width="1.05" fill="none"/><path d="M50.5,431.8L51.5,431.7L52.5,431.7L53.5,431.6L54.5,431.6L55.5,431.6L56.5,431.5L57.5,431.5L58.5,431.5L59.5,431.4L60.5,431.4L61.5,431.4L62.5,431.4L63.5,431.3L64.5,431.3L65.5,431.3L66.5,431.3L67.5,431.2L68.5,431.2L69.5,431.2L70.5,431.2L71.5,431.2L72.5,431.2L73.5,431.1L74.5,431.1L75.5,431.1L76.5,431.1L77.5,431.1L78.5,431.1L79.5,431.1L80.5,431.1L81.5,431.1L82.5,431.1L83.5,431.1L84.5,431.1L85.5,431.1L86.5,431.1L87.5,431.1L88.5,431.1L89.5,431.1L90.5,431.1L91.5,431.1L92.5,431.1L93.5,431.1L94.5,431.1L95.5,431.2L96.5,431.2L97.5,431.2L98.5,431.2L99.5,431.2L100.5,431.2L101.5,431.2L102.5,431.3L103.5,431.3L104.5,431.3L105.5,431.3L106.4,431.3L107.4,431.4L108.4,431.4L109.4,431.4L110.4,431.5L111.4,431.5L112.4,431.5L113.4,431.5L114.4,431.6L115.4,431.6L116.4,431.6L117.4,431.7L118.4,431.7L119.4,431.7L120.4,431.8L121.4,431.8L122.4,431.8L123.4,431.9L124.4,431.9L125.4,432.0L126.4,432.0L127.4,432.0L128.4,432.1L129.4,432.1L130.4,432.2L131.4,432.2L132.4,432.3L133.4,432.3L134.4,432.4L135.4,432.4L136.4,432.5L137.4,432.5L138.4,432.6L139.4,432.6L140.4,432.7L141.4,432.7L142.4,432.8L143.4,432.8L144.4,432.9L145.4,432.9L146.4,433.0L147.4,433.0L148.4,433.1L149.4,433.2L150.4,433.2L151.4,433.3L152.4,433.3L153.4,433.4L154.4,433.5L155.4,433.5L156.4,433.6L157.4,433.7L158.4,433.7L159.4,433.8L160.4,433.8L161.4,433.9L162.4,434.0L163.4,434.0L164.4,434.1L165.4,434.2L166.4,434.3L167.4,434.3L168.4,434.4L169.4,434.5L170.4,434.5L171.4,434.6L172.4,434.7L173.4,434.8L174.4,434.8L175.4,434.9L176.4,435.0L177.4,435.1L178.4,435.1L179.4,435.2L180.4,435.3L181.4,435.4L182.4,435.4L183.4,435.5L184.4,435.6L185.4,435.7L186.4,435.8L187.4,435.8L188.4,435.9L189.4,436.0L190.4,436.1L191.4,436.2L192.4,436.2L193.4,436.3L194.4,436.4L195.4,436.5L196.4,436.6L197.4,436.7L198.4,436.7L199.4,436.8L200.4,436.9L201.4,437.0L202.4,437.1L203.4,437.2L204.4,437.3L205.4,437.4L206.4,437.4L207.4,437.5L208.4,437.6L209.4,437.7L210.4,437.8L211.4,437.9L212.4,438.0L213.4,438.1L214.4,438.2L215.4,438.2L216.4,438.3L217.4,438.4L218.3,438.5L219.3,438.6L220.3,438.7L221.3,438.8L222.3,438.9L223.3,439.0L224.3,439.1L225.3,439.2L226.3,439.3L227.3,439.3L228.3,439.4L229.3,439.5L230.3,439.6L231.3,439.7L232.3,439.8L233.3,439.9L234.3,440.0L235.3,440.1L236.3,440.2L237.3,440.3L238.3,440.4L239.3,440.5L240.3,440.6L241.3,440.7L242.3,440.8L243.3,440.9L244.3,441.0L245.3,441.0L246.3,441.1L247.3,441.2L248.3,441.3L249.3,441.4L250.3,441.5L251.3,441.6L252.3,441.7L253.3,441.8L254.3,441.9L255.3,442.0L256.3,442.1L257.3,442.2L258.3,442.3L259.3,442.4L260.3,442.5L261.3,442.6L262.3,442.7L263.3,442.8L264.3,442.9L265.3,443.0L266.3,443.1L267.3,443.2L268.3,443.2L269.3,443.3L270.3,443.4L271.3,443.5L272.3,443.6L273.3,443.7L274.3,443.8L275.3,443.9L276.3,444.0L277.3,444.1L278.3,444.2L279.3,444.3L280.3,444.4L281.3,444.5L282.3,444.6L283.3,444.7L284.3,444.8L285.3,444.8L286.3,444.8L287.3,444.8L288.3,444.8L289.3,444.7L290.3,444.7L291.3,444.6L292.3,444.5L293.3,444.4L294.3,444.3L295.3,444.2L296.3,444.1L297.3,443.9L298.3,443.8L299.3,443.6L300.3,443.5L301.3,443.3L302.3,443.1L303.3,442.9L304.3,442.7L305.3,442.5L306.3,442.3L307.3,442.1L308.3,441.8L309.3,441.6L310.3,441.3L311.3,440.9L312.3,440.6L313.3,440.2L314.3,439.9L315.3,439.5L316.3,439.1L317.3,438.7L318.3,438.3L319.3,437.9L320.3,437.5L321.3,437.0L322.3,436.5L323.3,436.0L324.3,435.5L325.3,435.0L326.3,434.4L327.3,433.9L328.3,433.3L329.3,432.8L330.2,432.2L331.2,431.7L332.2,431.1L333.2,430.6L334.2,430.1L335.2,429.5L336.2,429.0L337.2,428.4L338.2,427.9L339.2,427.4L340.2,426.9L341.2,426.4L342.2,425.8L343.2,425.3L344.2,424.8L345.2,424.3L346.2,424.0L347.2,423.7L348.2,423.5L349.2,423.2L350.2,423.0L351.2,422.9L352.2,422.7L353.2,422.7L354.2,422.7L355.2,422.8L356.2,422.9L357.2,423.1L358.2,423.3L359.2,423.5L360.2,423.7L361.2,424.0L362.2,424.3L363.2,424.6L364.2,425.0L365.2,425.4L366.2,425.9L367.2,426.5L368.2,427.1L369.2,427.6L370.2,428.2L371.2,428.9L372.2,429.5L373.2,430.2L374.2,430.9L375.2,431.7L376.2,432.5L377.2,433.3L378.2,434.1L379.2,434.9L380.2,435.7L381.2,436.5L382.2,437.4L383.2,438.3L384.2,439.1L385.2,439.9L386.2,440.7L387.2,441.4L388.2,442.1L389.2,442.8L390.2,443.4L391.2,444.1L392.2,444.7L393.2,445.2L394.2,445.8L395.2,446.3L396.2,446.8L397.2,447.3L398.2,447.7L399.2,448.1L400.2,448.5L401.2,448.8L402.2,449.1L403.2,449.4L404.2,449.6L405.2,449.9L406.2,450.1L407.2,450.4L408.2,450.6L409.2,450.8L410.2,450.9L411.2,451.1L412.2,451.2L413.2,451.4L414.2,451.6L415.2,451.7L416.2,451.9L417.2,452.0L418.2,452.1L419.2,452.3L420.2,452.4L421.2,452.5L422.2,452.7L423.2,452.8L424.2,452.9L425.2,453.0L426.2,453.1L427.2,453.2L428.2,453.3L429.2,453.4L430.2,453.5L431.2,453.6L432.2,453.7L433.2,453.7L434.2,453.8L435.2,453.8L436.2,453.9L437.2,453.9L438.2,453.9L439.2,454.0L440.2,454.0L441.2,454.0L442.1,454.0L443.1,454.0L444.1,454.0L445.1,454.0L446.1,454.0L447.1,454.0L448.1,454.0L449.1,454.0L450.1,454.0L451.1,454.0L452.1,454.0L453.1,454.0L454.1,454.0L455.1,454.0L456.1,454.0L457.1,454.0L458.1,454.0L459.1,454.0L460.1,454.0L461.1,454.0L462.1,454.0L463.1,453.9L464.1,453.9L465.1,453.9L466.1,453.9L467.1,453.9L468.1,453.9L469.1,453.9L470.1,453.8L471.1,453.8L472.1,453.8L473.1,453.8L474.1,453.8L475.1,453.8L476.1,453.7L477.1,453.7L478.1,453.7L479.1,453.7L480.1,453.6L481.1,453.6L482.1,453.6L483.1,453.5L484.1,453.5L485.1,453.5L486.1,453.5L487.1,453.4L488.1,453.4L489.1,453.4L490.1,453.3L491.1,453.3L492.1,453.3L493.1,453.2L494.1,453.2L495.1,453.1L496.1,453.1L497.1,453.1" stroke="#585858" stroke-width="1.05" fill="none"/><path d="M50.5,431.8L51.5,431.7L52.5,431.7L53.5,431.6L54.5,431.6L55.5,431.6L56.5,431.5L57.5,431.5L58.5,431.5L59.5,431.4L60.5,431.4L61.5,431.4L62.5,431.4L63.5,431.3L64.5,431.3L65.5,431.3L66.5,431.3L67.5,431.2L68.5,431.2L69.5,431.2L70.5,431.2L71.5,431.2L72.5,431.2L73.5,431.1L74.5,431.1L75.5,431.1L76.5,431.1L77.5,431.1L78.5,431.1L79.5,431.1L80.5,431.1L81.5,431.1L82.5,431.1L83.5,431.1L84.5,431.1L85.5,431.1L86.5,431.1L87.5,431.1L88.5,431.1L89.5,431.1L90.5,431.1L91.5,431.1L92.5,431.1L93.5,431.1L94.5,431.1L95.5,431.2L96.5,431.2L97.5,431.2L98.5,431.2L99.5,431.2L100.5,431.2L101.5,431.2L102.5,431.3L103.5,431.3L104.5,431.3L105.5,431.3L106.4,431.3L107.4,431.4L108.4,431.4L109.4,431.4L110.4,431.5L111.4,431.5L112.4,431.5L113.4,431.5L114.4,431.6L115.4,431.6L116.4,431.6L117.4,431.7L118.4,431.7L119.4,431.7L120.4,431.8L121.4,431.8L122.4,431.8L123.4,431.9L124.4,431.9L125.4,432.0L126.4,432.0L127.4,432.0L128.4,432.1L129.4,432.1L130.4,432.2L131.4,432.2L132.4,432.3L133.4,432.3L134.4,432.4L135.4,432.4L136.4,432.5L137.4,432.5L138.4,432.6L139.4,432.6L140.4,432.7L141.4,432.7L142.4,432.8L143.4,432.8L144.4,432.9L145.4,432.9L146.4,433.0L147.4,433.0L148.4,433.1L149.4,433.2L150.4,433.2L151.4,433.3L152.4,433.3L153.4,433.4L154.4,433.5L155.4,433.5L156.4,433.6L157.4,433.7L158.4,433.7L159.4,433.8L160.4,433.8L161.4,433.9L162.4,434.0L163.4,434.0L164.4,434.1L165.4,434.2L166.4,434.3L167.4,434.3L168.4,434.4L169.4,434.5L170.4,434.5L171.4,434.6L172.4,434.7L173.4,434.8L174.4,434.8L175.4,434.9L176.4,435.0L177.4,435.1L178.4,435.1L179.4,435.2L180.4,435.3L181.4,435.4L182.4,435.4L183.4,435.5L184.4,435.6L185.4,435.7L186.4,435.8L187.4,435.8L188.4,435.9L189.4,436.0L190.4,436.1L191.4,436.2L192.4,436.2L193.4,436.3L194.4,436.4L195.4,436.5L196.4,436.6L197.4,436.7L198.4,436.7L199.4,436.8L200.4,436.9L201.4,437.0L202.4,437.0L203.4,437.1L204.4,437.2L205.4,437.3L206.4,437.3L207.4,437.4L208.4,437.5L209.4,437.5L210.4,437.6L211.4,437.7L212.4,437.7L213.4,437.8L214.4,437.9L215.4,437.9L216.4,438.0L217.4,438.0L218.3,437.9L219.3,437.9L220.3,437.8L221.3,437.8L222.3,437.7L223.3,437.6L224.3,437.6L225.3,437.5L226.3,437.4L227.3,437.3L228.3,437.1L229.3,437.0L230.3,436.9L231.3,436.7L232.3,436.6L233.3,436.4L234.3,436.2L235.3,436.0L236.3,435.9L237.3,435.7L238.3,435.5L239.3,435.3L240.3,435.1L241.3,434.9L242.3,434.7L243.3,434.5L244.3,434.3L245.3,434.0L246.3,433.8L247.3,433.6L248.3,433.3L249.3,433.1L250.3,432.9L251.3,432.8L252.3,432.6L253.3,432.4L254.3,432.2L255.3,432.1L256.3,431.9L257.3,431.8L258.3,431.6L259.3,431.4L260.3,431.3L261.3,431.2L262.3,431.0L263.3,430.9L264.3,430.7L265.3,430.5L266.3,430.4L267.3,430.2L268.3,430.1L269.3,430.0L270.3,429.8L271.3,429.7L272.3,429.6L273.3,429.5L274.3,429.3L275.3,429.3L276.3,429.2L277.3,429.1L278.3,429.1L279.3,429.0L280.3,428.9L281.3,428.9L282.3,428.8L283.3,428.8L284.3,428.8L285.3,428.8L286.3,428.9L287.3,429.0L288.3,429.1L289.3,429.2L290.3,429.4L291.3,429.5L292.3,429.6L293.3,429.8L294.3,430.0L295.3,430.2L296.3,430.4L297.3,430.7L298.3,431.0L299.3,431.3L300.3,431.6L301.3,431.9L302.3,432.3L303.3,432.7L304.3,433.0L305.3,433.4L306.3,433.7L307.3,434.1L308.3,434.4L309.3,434.7L310.3,435.1L311.3,435.4L312.3,435.7L313.3,436.0L314.3,436.3L315.3,436.7L316.3,437.0L317.3,437.3L318.3,437.7L319.3,438.0L320.3,438.4L321.3,438.8L322.3,439.2L323.3,439.6L324.3,440.0L325.3,440.4L326.3,440.9L327.3,441.3L328.3,441.7L329.3,442.1L330.2,442.5L331.2,442.9L332.2,443.2L333.2,443.5L334.2,443.8L335.2,444.1L336.2,444.3L337.2,444.6L338.2,444.8L339.2,445.1L340.2,445.4L341.2,445.7L342.2,446.0L343.2,446.3L344.2,446.6L345.2,446.9L346.2,447.2L347.2,447.5L348.2,447.8L349.2,448.0L350.2,448.3L351.2,448.4L352.2,448.6L353.2,448.8L354.2,449.0L355.2,449.1L356.2,449.3L357.2,449.5L358.2,449.6L359.2,449.8L360.2,450.0L361.2,450.1L362.2,450.3L363.2,450.4L364.2,450.5L365.2,450.7L366.2,450.8L367.2,450.9L368.2,451.1L369.2,451.2L370.2,451.3L371.2,451.4L372.2,451.5L373.2,451.6L374.2,451.7L375.2,451.8L376.2,451.9L377.2,451.9L378.2,452.0L379.2,452.1L380.2,452.1L381.2,452.2L382.2,452.2L383.2,452.3L384.2,452.3L385.2,452.4L386.2,452.4L387.2,452.5L388.2,452.5L389.2,452.6L390.2,452.6L391.2,452.7L392.2,452.7L393.2,452.7L394.2,452.8L395.2,452.8L396.2,452.9L397.2,452.9L398.2,452.9L399.2,453.0L400.2,453.0L401.2,453.1L402.2,453.1L403.2,453.1L404.2,453.2L405.2,453.2L406.2,453.2L407.2,453.3L408.2,453.3L409.2,453.3L410.2,453.4L411.2,453.4L412.2,453.4L413.2,453.5L414.2,453.5L415.2,453.5L416.2,453.6L417.2,453.6L418.2,453.6L419.2,453.6L420.2,453.7L421.2,453.7L422.2,453.7L423.2,453.7L424.2,453.7L425.2,453.8L426.2,453.8L427.2,453.8L428.2,453.8L429.2,453.8L430.2,453.9L431.2,453.9L432.2,453.9L433.2,453.9L434.2,453.9L435.2,453.9L436.2,453.9L437.2,453.9L438.2,454.0L439.2,454.0L440.2,454.0L441.2,454.0L442.1,454.0L443.1,454.0L444.1,454.0L445.1,454.0L446.1,454.0L447.1,454.0L448.1,454.0L449.1,454.0L450.1,454.0L451.1,454.0L452.1,454.0L453.1,454.0L454.1,454.0L455.1,454.0L456.1,454.0L457.1,454.0L458.1,454.0L459.1,454.0L460.1,454.0L461.1,454.0L462.1,454.0L463.1,453.9L464.1,453.9L465.1,453.9L466.1,453.9L467.1,453.9L468.1,453.9L469.1,453.9L470.1,453.8L471.1,453.8L472.1,453.8L473.1,453.8L474.1,453.8L475.1,453.8L476.1,453.7L477.1,453.7L478.1,453.7L479.1,453.7L480.1,453.6L481.1,453.6L482.1,453.6L483.1,453.5L484.1,453.5L485.1,453.5L486.1,453.5L487.1,453.4L488.1,453.4L489.1,453.4L490.1,453.3L491.1,453.3L492.1,453.3L493.1,453.2L494.1,453.2L495.1,453.1L496.1,453.1L497.1,453.1" stroke="#585858" stroke-width="1.05" fill="none"/><path d="M50.5,431.8L51.5,431.7L52.5,431.7L53.5,431.6L54.5,431.6L55.5,431.6L56.5,431.5L57.5,431.5L58.5,431.5L59.5,431.4L60.5,431.4L61.5,431.4L62.5,431.4L63.5,431.3L64.5,431.3L65.5,431.3L66.5,431.3L67.5,431.2L68.5,431.2L69.5,431.2L70.5,431.2L71.5,431.2L72.5,431.2L73.5,431.1L74.5,431.1L75.5,431.1L76.5,431.1L77.5,431.1L78.5,431.1L79.5,431.1L80.5,431.1L81.5,431.1L82.5,431.1L83.5,431.1L84.5,431.1L85.5,431.1L86.5,431.1L87.5,431.1L88.5,431.1L89.5,431.1L90.5,431.1L91.5,431.1L92.5,431.1L93.5,431.1L94.5,431.1L95.5,431.2L96.5,431.2L97.5,431.2L98.5,431.2L99.5,431.2L100.5,431.2L101.5,431.2L102.5,431.3L103.5,431.3L104.5,431.3L105.5,431.3L106.4,431.3L107.4,431.4L108.4,431.4L109.4,431.4L110.4,431.5L111.4,431.5L112.4,431.5L113.4,431.5L114.4,431.6L115.4,431.6L116.4,431.6L117.4,431.7L118.4,431.7L119.4,431.7L120.4,431.8L121.4,431.8L122.4,431.8L123.4,431.9L124.4,431.9L125.4,432.0L126.4,432.0L127.4,432.0L128.4,432.1L129.4,432.1L130.4,432.2L131.4,432.2L132.4,432.3L133.4,432.3L134.4,432.4L135.4,432.4L136.4,432.5L137.4,432.5L138.4,432.6L139.4,432.6L140.4,432.7L141.4,432.7L142.4,432.8L143.4,432.8L144.4,432.9L145.4,432.9L146.4,433.0L147.4,433.0L148.4,433.1L149.4,433.2L150.4,433.2L151.4,433.3L152.4,433.3L153.4,433.4L154.4,433.5L155.4,433.5L156.4,433.6L157.4,433.7L158.4,433.7L159.4,433.8L160.4,433.8L161.4,433.9L162.4,434.0L163.4,434.0L164.4,434.1L165.4,434.2L166.4,434.3L167.4,434.3L168.4,434.4L169.4,434.5L170.4,434.5L171.4,434.6L172.4,434.7L173.4,434.8L174.4,434.8L175.4,434.9L176.4,435.0L177.4,435.1L178.4,435.1L179.4,435.2L180.4,435.3L181.4,435.4L182.4,435.4L183.4,435.5L184.4,435.6L185.4,435.7L186.4,435.8L187.4,435.8L188.4,435.9L189.4,436.0L190.4,436.1L191.4,436.2L192.4,436.2L193.4,436.3L194.4,436.4L195.4,436.5L196.4,436.6L197.4,436.7L198.4,436.7L199.4,436.8L200.4,436.9L201.4,437.0L202.4,437.1L203.4,437.2L204.4,437.3L205.4,437.4L206.4,437.4L207.4,437.5L208.4,437.6L209.4,437.7L210.4,437.8L211.4,437.9L212.4,438.0L213.4,438.1L214.4,438.2L215.4,438.2L216.4,438.3L217.4,438.4L218.3,438.5L219.3,438.6L220.3,438.7L221.3,438.8L222.3,438.9L223.3,439.0L224.3,439.1L225.3,439.2L226.3,439.3L227.3,439.3L228.3,439.4L229.3,439.5L230.3,439.6L231.3,439.7L232.3,439.8L233.3,439.9L234.3,440.0L235.3,440.1L236.3,440.2L237.3,440.3L238.3,440.4L239.3,440.5L240.3,440.6L241.3,440.7L242.3,440.8L243.3,440.9L244.3,441.0L245.3,441.0L246.3,441.1L247.3,441.2L248.3,441.3L249.3,441.4L250.3,441.5L251.3,441.6L252.3,441.7L253.3,441.8L254.3,441.9L255.3,442.0L256.3,442.1L257.3,442.2L258.3,442.3L259.3,442.4L260.3,442.5L261.3,442.6L262.3,442.7L263.3,442.8L264.3,442.9L265.3,443.0L266.3,443.1L267.3,443.2L268.3,443.2L269.3,443.3L270.3,443.4L271.3,443.5L272.3,443.6L273.3,443.7L274.3,443.8L275.3,443.9L276.3,444.0L277.3,444.1L278.3,444.2L279.3,444.3L280.3,444.4L281.3,444.5L282.3,444.6L283.3,444.7L284.3,444.8L285.3,444.9L286.3,444.9L287.3,445.0L288.3,445.1L289.3,445.2L290.3,445.3L291.3,445.4L292.3,445.5L293.3,445.6L294.3,445.7L295.3,445.8L296.3,445.9L297.3,446.0L298.3,446.0L299.3,446.1L300.3,446.2L301.3,446.3L302.3,446.4L303.3,446.5L304.3,446.6L305.3,446.7L306.3,446.8L307.3,446.9L308.3,446.9L309.3,447.0L310.3,447.1L311.3,447.2L312.3,447.3L313.3,447.4L314.3,447.5L315.3,447.5L316.3,447.6L317.3,447.7L318.3,447.8L319.3,447.9L320.3,448.0L321.3,448.0L322.3,448.1L323.3,448.2L324.3,448.3L325.3,448.4L326.3,448.5L327.3,448.5L328.3,448.6L329.3,448.7L330.2,448.8L331.2,448.9L332.2,448.9L333.2,449.0L334.2,449.1L335.2,449.2L336.2,449.2L337.2,449.2L338.2,449.2L339.2,449.2L340.2,449.2L341.2,449.2L342.2,449.2L343.2,449.1L344.2,449.1L345.2,449.0L346.2,449.0L347.2,448.9L348.2,448.9L349.2,448.8L350.2,448.7L351.2,448.6L352.2,448.6L353.2,448.5L354.2,448.4L355.2,448.3L356.2,448.2L357.2,448.1L358.2,447.9L359.2,447.8L360.2,447.6L361.2,447.4L362.2,447.3L363.2,447.0L364.2,446.8L365.2,446.6L366.2,446.3L367.2,446.0L368.2,445.7L369.2,445.4L370.2,445.1L371.2,444.7L372.2,444.3L373.2,443.9L374.2,443.5L375.2,443.0L376.2,442.4L377.2,441.8L378.2,441.2L379.2,440.6L380.2,439.9L381.2,439.2L382.2,438.6L383.2,437.9L384.2,437.3L385.2,436.6L386.2,435.9L387.2,435.2L388.2,434.5L389.2,433.8L390.2,433.1L391.2,432.4L392.2,431.8L393.2,431.2L394.2,430.6L395.2,430.0L396.2,429.5L397.2,428.9L398.2,428.4L399.2,427.9L400.2,427.4L401.2,426.9L402.2,426.3L403.2,425.8L404.2,425.3L405.2,424.9L406.2,424.5L407.2,424.2L408.2,423.9L409.2,423.5L410.2,423.2L411.2,423.0L412.2,422.8L413.2,422.6L414.2,422.6L415.2,422.6L416.2,422.7L417.2,422.8L418.2,422.9L419.2,423.0L420.2,423.1L421.2,423.2L422.2,423.4L423.2,423.6L424.2,424.0L425.2,424.4L426.2,424.9L427.2,425.5L428.2,426.1L429.2,426.8L430.2,427.4L431.2,428.1L432.2,428.7L433.2,429.4L434.2,430.1L435.2,431.0L436.2,431.8L437.2,432.7L438.2,433.5L439.2,434.4L440.2,435.3L441.2,436.1L442.1,436.9L443.1,437.6L444.1,438.4L445.1,439.1L446.1,439.9L447.1,440.6L448.1,441.3L449.1,442.0L450.1,442.7L451.1,443.3L452.1,443.9L453.1,444.5L454.1,445.0L455.1,445.6L456.1,446.1L457.1,446.6L458.1,447.0L459.1,447.5L460.1,447.9L461.1,448.3L462.1,448.7L463.1,449.0L464.1,449.4L465.1,449.7L466.1,449.9L467.1,450.2L468.1,450.5L469.1,450.7L470.1,450.9L471.1,451.2L472.1,451.4L473.1,451.6L474.1,451.7L475.1,451.9L476.1,452.1L477.1,452.3L478.1,452.4L479.1,452.6L480.1,452.7L481.1,452.9L482.1,453.0L483.1,453.0L484.1,453.1L485.1,453.1L486.1,453.1L487.1,453.2L488.1,453.2L489.1,453.2L490.1,453.2L491.1,453.2L492.1,453.2L493.1,453.2L494.1,453.1L495.1,453.1L496.1,453.1L497.1,453.1" stroke="#585858" stroke-width="1.05" fill="none"/><path d="M331.7,70.8L289.2,92.5" stroke="#585858" stroke-width="1.05" fill="none"/><path d="M371.7,140.5L344.5,237" stroke="#585858" stroke-width="1.05" fill="none"/><path d="M332.8,295.5L290.5,316.8" stroke="#585858" stroke-width="1.05" fill="none"/><path d="M389,350.3L355,419.6" stroke="#585858" stroke-width="1.05" fill="none"/><path d="M435.3,406.7L413.7,431.8" stroke="#585858" stroke-width="1.05" fill="none"/><path d="M50.5,231.2L51.5,231.1L52.5,230.9L53.5,230.8L54.5,230.7L55.5,230.6L56.5,230.4L57.5,230.3L58.5,230.2L59.5,230.0L60.5,229.9L61.5,229.7L62.5,229.6L63.5,229.4L64.5,229.3L65.5,229.1L66.5,229.0L67.5,228.8L68.5,228.7L69.5,228.5L70.5,228.4L71.5,228.2L72.5,228.0L73.5,227.8L74.5,227.7L75.5,227.5L76.5,227.3L77.5,227.1L78.5,226.9L79.5,226.7L80.5,226.5L81.5,226.3L82.5,226.0L83.5,225.8L84.5,225.5L85.5,225.2L86.5,224.9L87.5,224.6L88.5,224.3L89.5,223.9L90.5,223.5L91.5,223.1L92.5,222.7L93.5,222.3L94.5,221.8L95.5,221.3L96.5,220.7L97.6,220.1L98.6,219.4L99.6,218.8L100.6,218.1L101.6,217.3L102.6,216.5L103.6,215.7L104.6,214.8L105.6,213.9L106.6,213.0L107.6,212.0L108.6,211.0L109.6,209.9L110.6,208.7L111.6,207.2L112.6,205.6L113.6,203.9L114.6,202.3L115.6,200.6L116.6,199.2L117.6,197.8L118.6,196.4L119.6,195.1L120.6,193.8L121.6,192.4L122.6,190.9L123.6,189.3L124.6,187.6L125.6,185.8L126.6,184.0L127.6,182.2L128.6,180.5L129.6,178.7L130.6,176.9L131.6,175.1L132.6,173.3L133.6,171.6L134.6,169.9L135.6,168.2L136.6,166.5L137.6,164.8L138.6,163.0L139.6,161.2L140.6,159.4L141.6,157.5L142.6,155.6L143.6,153.7L144.6,151.6L145.6,149.5L146.6,147.1L147.6,144.6L148.6,142.1L149.6,139.9L150.6,138.0L151.6,136.1L152.6,134.2L153.6,132.1L154.6,130.0L155.6,127.9L156.6,125.7L157.6,123.5L158.6,121.4L159.6,119.5L160.6,117.6L161.6,115.8L162.6,114.5L163.6,113.5L164.6,112.7L165.6,112.1L166.6,111.7L167.6,111.4L168.6,111.1L169.6,111.1L170.6,111.3L171.6,111.6L172.6,112.0L173.6,112.5L174.6,113.2L175.6,114.0L176.6,114.9L177.6,115.7L178.6,116.4L179.6,117.3L180.6,118.5L181.6,120.2L182.6,122.1L183.6,123.9L184.6,125.6L185.6,127.4L186.6,129.2L187.6,131.0L188.6,133.0L189.7,135.1L190.7,137.0L191.7,138.8L192.7,140.6L193.7,142.3L194.7,144.1L195.7,146.1L196.7,148.4L197.7,150.7L198.7,153.1L199.7,155.6L200.7,157.8L201.7,159.9L202.7,161.8L203.7,163.6L204.7,165.2L205.7,166.5L206.7,167.8L207.7,168.9L208.7,169.9L209.7,170.8L210.7,171.7L211.7,172.5L212.7,173.2L213.7,173.9L214.7,174.6L215.7,175.2L216.7,175.8L217.7,176.3L218.7,176.8L219.7,177.3L220.7,177.9L221.7,178.3L222.7,178.7L223.7,178.9L224.7,179.0L225.7,178.9L226.7,178.8L227.7,178.5L228.7,178.2L229.7,177.9L230.7,177.5L231.7,177.1L232.7,176.6L233.7,175.8L234.7,174.9L235.7,173.8L236.7,172.7L237.7,171.5L238.7,170.4L239.7,169.3L240.7,168.1L241.7,166.7L242.7,165.3L243.7,163.6L244.7,161.5L245.7,159.2L246.7,156.9L247.7,154.6L248.7,152.3L249.7,149.9L250.7,147.5L251.7,144.9L252.7,142.3L253.7,139.7L254.7,137.2L255.7,134.9L256.7,132.6L257.7,130.4L258.7,128.2L259.7,125.7L260.7,123.2L261.7,120.6L262.7,118.0L263.7,115.3L264.7,112.5L265.7,109.6L266.7,106.7L267.7,103.7L268.7,100.6L269.7,97.5L270.7,94.2L271.7,90.9L272.7,87.5L273.7,84.3L274.7,81.3L275.7,78.6L276.7,76.0L277.7,73.6L278.7,71.2L279.7,68.9L280.8,66.7L281.8,64.1L282.8,61.5L283.8,59.2L284.8,57.6L285.8,56.9L286.8,56.4L287.8,56.0L288.8,55.7L289.8,55.6L290.8,55.7L291.8,56.0L292.8,56.4L293.8,56.9L294.8,57.4L295.8,58.5L296.8,60.0L297.8,61.7L298.8,63.6L299.8,65.6L300.8,67.9L301.8,70.5L302.8,73.0L303.8,75.7L304.8,78.5L305.8,81.4L306.8,84.6L307.8,87.9L308.8,91.2L309.8,94.5L310.8,98.0L311.8,102.0L312.8,106.1L313.8,109.8L314.8,113.1L315.8,116.2L316.8,119.3L317.8,122.7L318.8,126.1L319.8,129.6L320.8,133.0L321.8,136.3L322.8,139.6L323.8,142.9L324.8,146.2L325.8,149.4L326.8,152.4L327.8,155.4L328.8,158.1L329.8,160.8L330.8,163.4L331.8,166.0L332.8,168.5L333.8,171.0L334.8,173.5L335.8,175.9L336.8,178.3L337.8,180.7L338.8,183.0L339.8,185.3L340.8,187.6L341.8,189.8L342.8,191.8L343.8,193.8L344.8,195.7L345.8,197.6L346.8,199.5L347.8,201.4L348.8,203.3L349.8,205.2L350.8,206.9L351.8,208.6L352.8,210.3L353.8,211.9L354.8,213.6L355.8,215.2L356.8,216.8L357.8,218.3L358.8,219.8L359.8,221.2L360.8,222.5L361.8,223.8L362.8,225.0L363.8,226.1L364.8,227.1L365.8,228.2L366.8,229.1L367.8,230.1L368.8,231.1L369.8,232.0L370.8,232.9L371.8,233.8L372.8,234.9L373.9,236.0L374.9,237.2L375.9,238.2L376.9,239.0L377.9,239.8L378.9,240.5L379.9,241.2L380.9,241.9L381.9,242.5L382.9,243.2L383.9,243.8L384.9,244.4L385.9,245.0L386.9,245.5L387.9,246.0L388.9,246.4L389.9,246.8L390.9,247.2L391.9,247.6L392.9,247.9L393.9,248.3L394.9,248.6L395.9,249.0L396.9,249.3L397.9,249.6L398.9,249.8L399.9,250.1L400.9,250.4L401.9,250.6L402.9,250.9L403.9,251.1L404.9,251.3L405.9,251.5L406.9,251.6L407.9,251.8L408.9,252.0L409.9,252.2L410.9,252.4L411.9,252.5L412.9,252.7L413.9,252.9L414.9,253.1L415.9,253.2L416.9,253.3L417.9,253.5L418.9,253.6L419.9,253.7L420.9,253.8L421.9,253.9L422.9,253.9L423.9,254.0L424.9,254.1L425.9,254.1L426.9,254.2L427.9,254.2L428.9,254.3L429.9,254.3L430.9,254.4L431.9,254.4L432.9,254.5L433.9,254.5L434.9,254.6L435.9,254.6L436.9,254.7L437.9,254.7L438.9,254.8L439.9,254.8L440.9,254.8L441.9,254.9L442.9,255.0L443.9,255.0L444.9,255.1L445.9,255.1L446.9,255.2L447.9,255.2L448.9,255.2L449.9,255.2L450.9,255.2L451.9,255.1L452.9,255.1L453.9,255.0L454.9,255.0L455.9,254.9L456.9,254.9L457.9,254.9L458.9,254.9L459.9,254.9L460.9,255.0L461.9,255.0L462.9,255.0L463.9,255.1L464.9,255.1L466.0,255.2L467.0,255.2L468.0,255.2L469.0,255.2L470.0,255.1L471.0,255.1L472.0,255.0L473.0,254.9L474.0,254.8L475.0,254.7L476.0,254.6L477.0,254.5L478.0,254.5L479.0,254.4L480.0,254.3L481.0,254.3L482.0,254.2L483.0,254.1L484.0,254.1L485.0,254.0L486.0,254.0L487.0,253.9L488.0,253.8L489.0,253.8L490.0,253.7L491.0,253.7L492.0,253.6L493.0,253.5L494.0,253.5L495.0,253.4L496.0,253.4L497.0,253.3L498.0,253.2L499.0,253.1L500.0,253.1L501.0,253.0L502.0,252.9L503.0,252.8L504.0,252.7L505.0,252.6L506.0,252.5L507.0,252.3L508.0,252.1L509.0,251.9L510.0,251.6L511.0,251.4" stroke="#ff0000" stroke-width="2.9" fill="none" stroke-linejoin="round"/><path d="M50.5,231.9L51.5,231.6L52.5,231.3L53.5,231.1L54.5,230.9L55.5,230.7L56.5,230.5L57.5,230.4L58.5,230.2L59.5,230.1L60.5,229.9L61.5,229.8L62.5,229.7L63.5,229.6L64.5,229.5L65.5,229.4L66.5,229.3L67.5,229.2L68.5,229.1L69.5,229.0L70.5,228.9L71.5,228.8L72.5,228.7L73.5,228.6L74.5,228.5L75.5,228.4L76.5,228.3L77.5,228.1L78.5,228.0L79.5,227.8L80.5,227.6L81.5,227.4L82.5,227.2L83.5,227.0L84.5,226.7L85.5,226.5L86.5,226.2L87.5,225.9L88.5,225.5L89.5,225.2L90.5,224.8L91.5,224.4L92.5,223.9L93.6,223.4L94.6,222.9L95.6,222.4L96.6,221.8L97.6,221.2L98.6,220.6L99.6,219.9L100.6,219.2L101.6,218.4L102.6,217.6L103.6,216.8L104.6,215.9L105.6,215.0L106.6,214.0L107.6,213.0L108.6,211.9L109.6,210.8L110.6,209.6L111.6,208.5L112.6,207.2L113.6,205.9L114.6,204.6L115.6,203.2L116.6,201.8L117.6,200.4L118.6,198.9L119.6,197.3L120.6,195.8L121.6,194.1L122.6,192.5L123.6,190.8L124.6,189.0L125.6,187.2L126.6,185.4L127.6,183.5L128.6,181.6L129.6,179.7L130.6,177.7L131.6,175.7L132.6,173.6L133.6,171.5L134.6,169.3L135.6,167.2L136.6,164.9L137.6,162.7L138.6,160.4L139.6,158.2L140.6,155.9L141.6,153.6L142.6,151.3L143.6,149.0L144.6,146.8L145.6,144.6L146.6,142.4L147.6,140.2L148.6,138.2L149.6,136.1L150.6,134.2L151.6,132.3L152.6,130.5L153.6,128.8L154.6,127.2L155.6,125.7L156.6,124.3L157.6,123.0L158.6,121.8L159.6,120.7L160.6,119.7L161.6,118.8L162.6,118.0L163.6,117.4L164.6,116.8L165.6,116.4L166.6,116.0L167.6,115.8L168.6,115.7L169.6,115.7L170.6,115.9L171.6,116.1L172.6,116.5L173.6,117.0L174.6,117.6L175.6,118.3L176.7,119.1L177.7,120.0L178.7,121.0L179.7,122.1L180.7,123.3L181.7,124.5L182.7,125.9L183.7,127.2L184.7,128.7L185.7,130.2L186.7,131.7L187.7,133.3L188.7,135.0L189.7,136.7L190.7,138.4L191.7,140.1L192.7,141.9L193.7,143.6L194.7,145.4L195.7,147.2L196.7,149.0L197.7,150.8L198.7,152.6L199.7,154.4L200.7,156.1L201.7,157.8L202.7,159.5L203.7,161.1L204.7,162.7L205.7,164.3L206.7,165.8L207.7,167.2L208.7,168.6L209.7,169.9L210.7,171.1L211.7,172.2L212.7,173.3L213.7,174.3L214.7,175.3L215.7,176.2L216.7,176.9L217.7,177.6L218.7,178.3L219.7,178.8L220.7,179.3L221.7,179.7L222.7,180.0L223.7,180.2L224.7,180.3L225.7,180.3L226.7,180.2L227.7,180.1L228.7,179.8L229.7,179.5L230.7,179.0L231.7,178.5L232.7,177.9L233.7,177.1L234.7,176.3L235.7,175.3L236.7,174.3L237.7,173.1L238.7,171.8L239.7,170.4L240.7,168.9L241.7,167.3L242.7,165.6L243.7,163.8L244.7,161.8L245.7,159.8L246.7,157.6L247.7,155.3L248.7,152.9L249.7,150.5L250.7,147.9L251.7,145.3L252.7,142.6L253.7,139.9L254.7,137.1L255.7,134.3L256.7,131.5L257.7,128.7L258.7,125.8L259.7,123.0L260.8,120.1L261.8,117.2L262.8,114.4L263.8,111.5L264.8,108.6L265.8,105.8L266.8,103.0L267.8,100.2L268.8,97.4L269.8,94.6L270.8,91.9L271.8,89.2L272.8,86.6L273.8,84.0L274.8,81.5L275.8,79.1L276.8,76.8L277.8,74.7L278.8,72.6L279.8,70.6L280.8,68.8L281.8,67.1L282.8,65.6L283.8,64.2L284.8,63.0L285.8,62.0L286.8,61.2L287.8,60.5L288.8,60.1L289.8,59.9L290.8,59.9L291.8,60.2L292.8,60.7L293.8,61.4L294.8,62.4L295.8,63.7L296.8,65.2L297.8,66.9L298.8,68.8L299.8,70.8L300.8,73.1L301.8,75.5L302.8,78.0L303.8,80.7L304.8,83.5L305.8,86.4L306.8,89.4L307.8,92.5L308.8,95.6L309.8,98.8L310.8,102.0L311.8,105.3L312.8,108.5L313.8,111.8L314.8,115.2L315.8,118.5L316.8,121.8L317.8,125.1L318.8,128.5L319.8,131.8L320.8,135.0L321.8,138.3L322.8,141.5L323.8,144.6L324.8,147.8L325.8,150.8L326.8,153.8L327.8,156.8L328.8,159.6L329.8,162.4L330.8,165.1L331.8,167.8L332.8,170.4L333.8,172.9L334.8,175.4L335.8,177.8L336.8,180.1L337.8,182.4L338.8,184.6L339.8,186.8L340.8,188.9L341.8,191.0L342.8,193.0L343.8,195.0L344.9,196.9L345.9,198.8L346.9,200.6L347.9,202.4L348.9,204.1L349.9,205.8L350.9,207.5L351.9,209.1L352.9,210.7L353.9,212.3L354.9,213.8L355.9,215.3L356.9,216.7L357.9,218.1L358.9,219.5L359.9,220.8L360.9,222.1L361.9,223.4L362.9,224.6L363.9,225.8L364.9,227.0L365.9,228.1L366.9,229.2L367.9,230.3L368.9,231.3L369.9,232.3L370.9,233.3L371.9,234.2L372.9,235.1L373.9,235.9L374.9,236.8L375.9,237.6L376.9,238.4L377.9,239.1L378.9,239.8L379.9,240.5L380.9,241.2L381.9,241.8L382.9,242.4L383.9,243.0L384.9,243.6L385.9,244.1L386.9,244.6L387.9,245.1L388.9,245.6L389.9,246.1L390.9,246.5L391.9,247.0L392.9,247.4L393.9,247.8L394.9,248.1L395.9,248.5L396.9,248.8L397.9,249.2L398.9,249.5L399.9,249.8L400.9,250.1L401.9,250.4L402.9,250.6L403.9,250.9L404.9,251.2L405.9,251.4L406.9,251.6L407.9,251.8L408.9,252.1L409.9,252.2L410.9,252.4L411.9,252.6L412.9,252.8L413.9,252.9L414.9,253.1L415.9,253.2L416.9,253.4L417.9,253.5L418.9,253.6L419.9,253.7L420.9,253.8L421.9,253.9L422.9,254.0L423.9,254.1L424.9,254.2L425.9,254.3L426.9,254.3L427.9,254.4L428.9,254.5L430.0,254.5L431.0,254.6L432.0,254.6L433.0,254.7L434.0,254.7L435.0,254.7L436.0,254.7L437.0,254.8L438.0,254.8L439.0,254.8L440.0,254.8L441.0,254.8L442.0,254.9L443.0,254.9L444.0,254.9L445.0,254.9L446.0,254.9L447.0,254.9L448.0,254.9L449.0,254.9L450.0,254.9L451.0,254.9L452.0,254.9L453.0,255.0L454.0,255.0L455.0,255.0L456.0,255.0L457.0,255.0L458.0,255.0L459.0,255.0L460.0,255.1L461.0,255.1L462.0,255.1L463.0,255.1L464.0,255.2L465.0,255.2L466.0,255.2L467.0,255.3L468.0,255.3L469.0,255.4L470.0,255.5L471.0,255.5" stroke="#000" stroke-width="1.6" fill="none" stroke-linejoin="round"/><path d="M50.5,428.3L51.5,428.3L52.5,428.2L53.5,428.2L54.5,428.1L55.5,428.1L56.5,428.0L57.5,427.9L58.5,427.8L59.5,427.7L60.5,427.6L61.5,427.5L62.5,427.4L63.5,427.3L64.5,427.2L65.5,427.1L66.5,427.0L67.5,426.8L68.5,426.7L69.5,426.5L70.5,426.4L71.5,426.2L72.5,426.0L73.5,425.8L74.5,425.6L75.5,425.4L76.5,425.2L77.5,425.0L78.5,424.8L79.5,424.6L80.5,424.4L81.5,424.2L82.5,423.9L83.5,423.7L84.5,423.4L85.5,423.2L86.5,422.9L87.5,422.5L88.5,422.2L89.5,421.8L90.5,421.4L91.5,420.9L92.5,420.4L93.5,419.9L94.5,419.4L95.5,418.8L96.5,418.3L97.5,417.6L98.5,417.0L99.5,416.2L100.5,415.5L101.5,414.7L102.5,413.9L103.5,413.1L104.5,412.2L105.5,411.4L106.5,410.6L107.5,409.8L108.5,408.9L109.5,407.9L110.5,406.5L111.5,404.5L112.5,402.2L113.5,399.9L114.5,398.1L115.5,396.8L116.5,395.6L117.5,394.5L118.5,393.5L119.5,392.7L120.5,391.9L121.5,391.2L122.5,390.3L123.5,389.3L124.5,388.1L125.5,386.8L126.5,385.4L127.4,383.8L128.4,382.1L129.4,380.4L130.4,378.8L131.4,377.1L132.4,375.5L133.4,373.8L134.4,372.1L135.4,370.4L136.4,368.6L137.4,366.8L138.4,365.1L139.4,363.4L140.4,361.6L141.4,359.9L142.4,358.2L143.4,356.4L144.4,354.7L145.4,353.0L146.4,351.3L147.4,349.4L148.4,347.4L149.4,344.8L150.4,341.8L151.4,338.8L152.4,336.9L153.3,334.7L153.4,334.6L154.4,333.6L155.4,332.6L156.4,331.7L156.5,331.6L157.4,331.0L158.4,330.5L159.2,330.0L159.4,330.1L160.4,330.8L161.4,331.4L162.4,332.1L162.9,332.4L163.4,332.1L164.4,331.7L165.4,331.2L166.4,330.7L166.6,330.6L167.4,330.7L168.4,330.8L169.4,330.9L170.2,331.0L170.4,331.0L171.4,330.7L172.4,330.5L173.0,330.4L173.4,330.0L174.4,329.1L175.3,328.3L175.4,328.3L176.4,328.5L177.4,328.7L178.4,328.9L179.4,329.1L180.4,329.4L181.4,329.6L181.6,329.6L182.4,330.2L183.4,330.9L184.4,331.6L185.4,332.3L185.4,332.3L186.4,333.8L187.4,335.3L188.1,336.3L188.4,337.2L189.4,340.0L190.0,341.6L190.4,342.1L191.4,343.3L192.4,344.6L192.6,344.8L193.4,345.6L194.4,346.6L195.4,347.6L196.4,348.6L197.0,349.2L197.4,349.8L198.4,351.4L199.4,353.0L200.0,354.0L200.4,354.6L201.4,356.1L202.4,357.6L202.9,358.3L203.4,358.7L204.4,359.4L205.4,360.1L206.4,360.8L207.3,361.5L207.4,361.5L208.4,361.9L209.4,362.3L210.4,362.7L211.4,363.1L211.7,363.2L212.4,363.1L213.4,362.8L214.4,362.6L215.0,362.5L215.4,362.4L216.4,362.1L217.4,361.8L218.4,361.5L219.4,361.2L219.4,361.2L220.4,360.8L221.4,360.4L222.4,360.0L223.4,359.6L224.4,359.2L224.5,359.2L225.4,360.1L226.2,361.0L226.4,361.2L227.4,362.6L228.4,363.9L228.8,364.5L229.4,364.0L230.4,363.0L231.4,362.1L231.9,361.6L232.4,361.2L233.4,360.3L234.4,359.5L235.4,358.6L236.4,357.8L237.4,356.8L238.4,355.8L239.4,354.7L240.4,353.6L241.4,352.4L242.4,351.1L243.4,349.8L244.4,348.3L245.4,346.8L246.4,345.0L247.4,343.1L248.4,341.1L249.4,339.1L250.4,337.0L251.4,334.8L252.4,332.5L253.4,330.1L254.4,327.4L255.4,324.6L256.4,321.7L257.4,318.7L258.4,315.8L259.4,313.0L260.4,310.1L261.4,307.3L262.4,304.4L263.4,301.7L264.4,299.1L265.4,296.6L266.4,294.2L267.4,291.8L268.4,289.4L269.4,286.7L270.4,283.9L271.4,281.0L272.4,278.2L273.4,275.6L274.4,273.2L275.4,270.9L276.4,268.6L277.4,266.5L278.4,264.7L279.4,263.0L280.4,261.6L281.3,260.2L282.3,258.9L283.3,257.9L284.3,257.2L285.3,256.8L286.3,256.4L287.3,256.1L288.3,255.9L289.3,255.8L290.3,255.9L291.3,256.4L292.3,257.1L293.3,257.7L294.3,258.2L295.3,258.8L296.3,259.5L297.3,260.4L298.3,261.5L299.3,263.4L300.3,266.3L301.3,268.5L302.3,270.4L303.3,272.2L304.3,274.0L305.3,276.0L306.3,278.1L307.3,280.3L308.3,282.6L309.3,285.1L310.3,287.8L311.3,290.7L312.3,293.9L313.3,297.0L314.3,300.2L315.3,303.2L316.3,306.3L317.3,309.3L318.3,312.4L319.3,315.5L320.3,318.8L321.3,322.0L322.3,325.3L323.3,328.4L324.3,331.5L325.3,334.5L326.3,337.5L327.3,340.4L328.3,343.0L329.3,345.5L330.3,347.8L331.3,349.9L332.3,352.0L333.3,354.1L334.3,356.2L335.3,358.2L336.3,360.2L337.3,362.2L338.3,364.1L339.3,366.1L340.3,368.2L341.3,370.2L342.3,372.3L343.3,374.3L344.3,376.2L345.3,377.8L346.3,379.3L347.3,380.7L348.3,382.2L349.3,383.7L350.3,385.2L351.3,386.7L352.3,388.3L353.3,389.8L354.3,391.3L355.3,392.8L356.3,394.3L357.3,395.7L358.3,397.1L359.3,398.5L360.3,399.8L361.3,401.2L362.3,402.4L363.3,403.6L364.3,404.7L365.3,405.7L366.3,406.8L367.3,407.7L368.3,408.6L369.3,409.5L370.3,410.3L371.3,411.1L372.3,411.8L373.3,412.5L374.3,413.2L375.3,413.8L376.3,414.3L377.3,414.8L378.3,415.3L379.3,415.8L380.3,416.2L381.3,416.7L382.3,417.2L383.3,417.6L384.3,418.1L385.3,418.4L386.3,418.7L387.3,419.0L388.3,419.3L389.3,419.5L390.3,419.8L391.3,420.0L392.3,420.2L393.3,420.4L394.3,420.5L395.3,420.6L396.3,420.7L397.3,420.9L398.3,421.0L399.3,421.0L400.3,421.1L401.3,421.2L402.3,421.3L403.3,421.3L404.3,421.3L405.3,421.4L406.3,421.4L407.3,421.4L408.3,421.4L409.3,421.4L410.3,421.4L411.3,421.5L412.3,421.5L413.3,421.5L414.3,421.6L415.3,421.7L416.3,421.9L417.3,422.1L418.3,422.2L419.3,422.5L420.3,422.7L421.3,422.9L422.3,423.2L423.3,423.6L424.3,424.0L425.3,424.5L426.3,425.0L427.3,425.6L428.3,426.2L429.3,426.8L430.3,427.4L431.3,428.1L432.3,428.8L433.3,429.6L434.3,430.4L435.2,431.4L436.2,432.3L437.2,433.1L438.2,433.9L439.2,434.7L440.2,435.5L441.2,436.2L442.2,436.9L443.2,437.7L444.2,438.4L445.2,439.1L446.2,439.9L447.2,440.6L448.2,441.3L449.2,442.0L450.2,442.6L451.2,443.2L452.2,443.8L453.2,444.3L454.2,444.8L455.2,445.3L456.2,445.8L457.2,446.2L458.2,446.7L459.2,447.1L460.2,447.5L461.2,447.9L462.2,448.2L463.2,448.6L464.2,448.9L465.2,449.3L466.2,449.6L467.2,449.9L468.2,450.2L469.2,450.5L470.2,450.8L471.2,451.1L472.2,451.3L473.2,451.6L474.2,451.8L475.2,452.0L476.2,452.1L477.2,452.3L478.2,452.4L479.2,452.6L480.2,452.7L481.2,452.8L482.2,453.0L483.2,453.1L484.2,453.3L485.2,453.4L486.2,453.6L487.2,453.8L488.2,454.0L489.2,454.1L490.2,454.2L491.2,454.3L492.2,454.4L493.2,454.4L494.2,454.5L495.2,454.5L496.2,454.5L497.2,454.6L498.2,454.7L499.2,455.0L500.2,455.2L501.2,455.4L502.2,455.6L503.2,455.7L504.2,455.7L505.2,455.5L506.2,455.2L507.2,454.9L508.2,454.5L509.2,453.7L510.2,453.7L511.2,454.3" stroke="#00b0f0" stroke-width="2.9" fill="none" stroke-linejoin="round"/><path d="M50.5,431.0L51.5,431.0L52.5,430.9L53.5,430.8L54.5,430.8L55.5,430.7L56.5,430.6L57.5,430.6L58.5,430.5L59.5,430.4L60.5,430.3L61.5,430.2L62.5,430.1L63.5,430.0L64.5,429.9L65.5,429.8L66.5,429.7L67.5,429.5L68.5,429.4L69.5,429.2L70.5,429.1L71.5,428.9L72.5,428.7L73.5,428.5L74.5,428.3L75.5,428.1L76.5,427.8L77.5,427.6L78.5,427.3L79.5,427.0L80.5,426.7L81.5,426.4L82.5,426.0L83.5,425.7L84.5,425.3L85.5,424.9L86.5,424.5L87.5,424.1L88.5,423.6L89.5,423.1L90.5,422.6L91.5,422.1L92.5,421.6L93.5,421.0L94.5,420.4L95.5,419.8L96.5,419.1L97.5,418.5L98.5,417.8L99.5,417.0L100.5,416.3L101.5,415.5L102.5,414.6L103.5,413.8L104.5,412.9L105.5,411.9L106.4,410.9L107.4,409.9L108.4,408.8L109.4,407.7L110.4,406.5L111.4,405.3L112.4,404.0L113.4,402.7L114.4,401.4L115.4,400.0L116.4,398.6L117.4,397.1L118.4,395.6L119.4,394.1L120.4,392.6L121.4,391.1L122.4,389.5L123.4,387.9L124.4,386.3L125.4,384.7L126.4,383.1L127.4,381.5L128.4,379.8L129.4,378.2L130.4,376.5L131.4,374.8L132.4,373.1L133.4,371.5L134.4,369.8L135.4,368.1L136.4,366.4L137.4,364.7L138.4,363.0L139.4,361.4L140.4,359.7L141.4,358.0L142.4,356.4L143.4,354.8L144.4,353.2L145.4,351.6L146.4,350.0L147.4,348.5L148.4,347.0L149.4,345.5L150.4,344.1L151.4,342.7L152.4,341.4L153.4,340.1L154.4,338.8L155.4,337.7L156.4,336.6L157.4,335.6L158.4,334.6L159.4,333.7L160.4,332.9L161.4,332.1L162.4,331.4L163.4,330.8L164.4,330.3L165.4,329.9L166.4,329.5L167.4,329.2L168.4,329.0L169.4,328.9L170.4,328.9L171.4,329.0L172.4,329.1L173.4,329.4L174.4,329.7L175.4,330.1L176.4,330.5L177.4,331.1L178.4,331.7L179.4,332.3L180.4,333.1L181.4,333.8L182.4,334.6L183.4,335.5L184.4,336.4L185.4,337.3L186.4,338.3L187.4,339.3L188.4,340.3L189.4,341.3L190.4,342.4L191.4,343.4L192.4,344.5L193.4,345.5L194.4,346.6L195.4,347.6L196.4,348.7L197.4,349.7L198.4,350.7L199.4,351.7L200.4,352.7L201.4,353.6L202.4,354.5L203.4,355.4L204.4,356.3L205.4,357.1L206.4,357.9L207.4,358.7L208.4,359.4L209.4,360.1L210.4,360.7L211.4,361.3L212.4,361.8L213.4,362.4L214.4,362.8L215.4,363.2L216.4,363.6L217.4,363.9L218.3,364.1L219.3,364.3L220.3,364.5L221.3,364.5L222.3,364.5L223.3,364.5L224.3,364.4L225.3,364.2L226.3,363.9L227.3,363.6L228.3,363.2L229.3,362.8L230.3,362.2L231.3,361.6L232.3,360.9L233.3,360.2L234.3,359.3L235.3,358.4L236.3,357.4L237.3,356.3L238.3,355.1L239.3,353.9L240.3,352.6L241.3,351.1L242.3,349.6L243.3,348.0L244.3,346.3L245.3,344.6L246.3,342.7L247.3,340.7L248.3,338.7L249.3,336.5L250.3,334.3L251.3,332.0L252.3,329.6L253.3,327.2L254.3,324.7L255.3,322.1L256.3,319.6L257.3,317.0L258.3,314.4L259.3,311.7L260.3,309.1L261.3,306.4L262.3,303.8L263.3,301.1L264.3,298.5L265.3,295.9L266.3,293.4L267.3,290.9L268.3,288.4L269.3,286.0L270.3,283.6L271.3,281.4L272.3,279.1L273.3,277.0L274.3,275.0L275.3,273.0L276.3,271.1L277.3,269.4L278.3,267.7L279.3,266.2L280.3,264.8L281.3,263.5L282.3,262.3L283.3,261.3L284.3,260.4L285.3,259.6L286.3,259.1L287.3,258.6L288.3,258.4L289.3,258.3L290.3,258.3L291.3,258.5L292.3,258.9L293.3,259.4L294.3,260.1L295.3,260.9L296.3,261.8L297.3,262.9L298.3,264.2L299.3,265.5L300.3,267.1L301.3,268.7L302.3,270.5L303.3,272.4L304.3,274.4L305.3,276.6L306.3,278.8L307.3,281.2L308.3,283.7L309.3,286.2L310.3,288.9L311.3,291.6L312.3,294.3L313.3,297.1L314.3,300.0L315.3,302.9L316.3,305.8L317.3,308.8L318.3,311.7L319.3,314.7L320.3,317.6L321.3,320.6L322.3,323.5L323.3,326.3L324.3,329.2L325.3,331.9L326.3,334.6L327.3,337.3L328.3,339.9L329.3,342.5L330.2,345.0L331.2,347.4L332.2,349.8L333.2,352.2L334.2,354.5L335.2,356.7L336.2,358.9L337.2,361.1L338.2,363.2L339.2,365.3L340.2,367.3L341.2,369.3L342.2,371.2L343.2,373.1L344.2,374.9L345.2,376.7L346.2,378.5L347.2,380.3L348.2,381.9L349.2,383.6L350.2,385.2L351.2,386.8L352.2,388.3L353.2,389.8L354.2,391.3L355.2,392.7L356.2,394.1L357.2,395.4L358.2,396.8L359.2,398.0L360.2,399.2L361.2,400.4L362.2,401.6L363.2,402.7L364.2,403.8L365.2,404.8L366.2,405.8L367.2,406.8L368.2,407.7L369.2,408.6L370.2,409.4L371.2,410.2L372.2,411.0L373.2,411.7L374.2,412.4L375.2,413.0L376.2,413.7L377.2,414.2L378.2,414.8L379.2,415.3L380.2,415.7L381.2,416.2L382.2,416.6L383.2,417.0L384.2,417.3L385.2,417.7L386.2,418.0L387.2,418.3L388.2,418.5L389.2,418.8L390.2,419.0L391.2,419.2L392.2,419.4L393.2,419.6L394.2,419.7L395.2,419.9L396.2,420.0L397.2,420.1L398.2,420.3L399.2,420.4L400.2,420.5L401.2,420.6L402.2,420.7L403.2,420.8L404.2,420.9L405.2,421.0L406.2,421.1L407.2,421.2L408.2,421.3L409.2,421.4L410.2,421.5L411.2,421.6L412.2,421.8L413.2,421.9L414.2,422.1L415.2,422.3L416.2,422.5L417.2,422.7L418.2,422.9L419.2,423.2L420.2,423.5L421.2,423.8L422.2,424.1L423.2,424.4L424.2,424.8L425.2,425.2L426.2,425.7L427.2,426.1L428.2,426.6L429.2,427.1L430.2,427.7L431.2,428.3L432.2,428.9L433.2,429.6L434.2,430.3L435.2,431.0L436.2,431.8L437.2,432.5L438.2,433.3L439.2,434.1L440.2,434.9L441.2,435.7L442.1,436.5L443.1,437.3L444.1,438.1L445.1,438.9L446.1,439.7L447.1,440.4L448.1,441.2L449.1,441.9L450.1,442.6L451.1,443.3L452.1,443.9L453.1,444.6L454.1,445.2L455.1,445.7L456.1,446.3L457.1,446.8L458.1,447.2L459.1,447.7L460.1,448.1L461.1,448.5L462.1,448.9L463.1,449.2L464.1,449.6L465.1,449.9L466.1,450.2L467.1,450.4L468.1,450.7L469.1,450.9L470.1,451.1L471.1,451.3L472.1,451.5L473.1,451.7L474.1,451.8L475.1,452.0L476.1,452.1L477.1,452.2L478.1,452.4L479.1,452.5L480.1,452.6L481.1,452.6L482.1,452.7L483.1,452.8L484.1,452.9L485.1,453.0L486.1,453.0L487.1,453.1L488.1,453.2L489.1,453.2L490.1,453.3L491.1,453.3L492.1,453.4L493.1,453.5L494.1,453.6L495.1,453.7L496.1,453.8L497.1,453.9" stroke="#000" stroke-width="1.6" fill="none" stroke-linejoin="round"/><rect x="424.5" y="31.5" width="81" height="38" fill="#fff" stroke="#606060" stroke-width="1.15"/><text id="u53" x="183.99" y="50.40" font-size="21.19" font-weight="400" fill="#000" textLength="61.89" lengthAdjust="spacingAndGlyphs">Mo 3d</text><text id="u53s" x="245.95" y="55.50" font-size="14.80" font-weight="400" fill="#000" textLength="22.63" lengthAdjust="spacingAndGlyphs">5/2</text><text id="red" x="152.02" y="89.40" font-size="21.72" font-weight="400" fill="#ff0000" textLength="102.26" lengthAdjust="spacingAndGlyphs">Mo 18.8 %</text><text id="u33" x="63.73" y="106.30" font-size="21.19" font-weight="400" fill="#000" textLength="61.42" lengthAdjust="spacingAndGlyphs">Mo 3d</text><text id="u33s" x="125.71" y="110.70" font-size="14.80" font-weight="400" fill="#000" textLength="22.12" lengthAdjust="spacingAndGlyphs">3/2</text><text id="u6mo" x="326.04" y="65.00" font-size="21.40" font-weight="400" fill="#000" textLength="31.79" lengthAdjust="spacingAndGlyphs">Mo</text><text id="u6sup" x="358.87" y="57.30" font-size="14.00" font-weight="400" fill="#000" textLength="16.60" lengthAdjust="spacingAndGlyphs">6+</text><text id="u6num" x="344.54" y="84.90" font-size="21.51" font-weight="400" fill="#000" textLength="54.08" lengthAdjust="spacingAndGlyphs">232.8</text><text id="u5mo" x="360.51" y="135.10" font-size="21.40" font-weight="400" fill="#000" textLength="31.16" lengthAdjust="spacingAndGlyphs">Mo</text><text id="u5sup" x="393.29" y="127.40" font-size="14.00" font-weight="400" fill="#000" textLength="16.48" lengthAdjust="spacingAndGlyphs">5+</text><text id="u5num" x="381.10" y="155.60" font-size="21.51" font-weight="400" fill="#000" textLength="52.86" lengthAdjust="spacingAndGlyphs">231.2</text><text id="box" x="431.92" y="57.10" font-size="21.70" font-weight="700" fill="#000" textLength="62.77" lengthAdjust="spacingAndGlyphs">Mo 3d</text><text id="cyan" x="165.72" y="310.40" font-size="21.72" font-weight="400" fill="#00b0f0" textLength="82.90" lengthAdjust="spacingAndGlyphs">Mo 12 %</text><text id="l6mo" x="327.51" y="289.30" font-size="21.40" font-weight="400" fill="#000" textLength="31.16" lengthAdjust="spacingAndGlyphs">Mo</text><text id="l6sup" x="360.27" y="281.60" font-size="14.00" font-weight="400" fill="#000" textLength="16.03" lengthAdjust="spacingAndGlyphs">6+</text><text id="l6num" x="345.90" y="309.80" font-size="21.51" font-weight="400" fill="#000" textLength="52.02" lengthAdjust="spacingAndGlyphs">232.7</text><text id="l49mo" x="385.08" y="344.50" font-size="21.40" font-weight="400" fill="#000" textLength="31.37" lengthAdjust="spacingAndGlyphs">Mo</text><text id="l49sup" x="418.45" y="337.20" font-size="14.00" font-weight="400" fill="#000" textLength="28.42" lengthAdjust="spacingAndGlyphs">4.9+</text><text id="l49num" x="396.68" y="366.70" font-size="21.51" font-weight="400" fill="#000" textLength="52.58" lengthAdjust="spacingAndGlyphs">231.1</text><text id="l38mo" x="431.44" y="402.20" font-size="21.40" font-weight="400" fill="#000" textLength="31.46" lengthAdjust="spacingAndGlyphs">Mo</text><text id="l38sup" x="464.03" y="395.50" font-size="14.00" font-weight="400" fill="#000" textLength="28.16" lengthAdjust="spacingAndGlyphs">3.8+</text><text id="l38num" x="449.39" y="423.70" font-size="21.51" font-weight="400" fill="#000" textLength="52.36" lengthAdjust="spacingAndGlyphs">229.5</text><text id="x239" x="33.04" y="496.00" font-size="21.61" font-weight="400" fill="#000" textLength="34.38" lengthAdjust="spacingAndGlyphs">239</text><text id="x237" x="109.20" y="496.00" font-size="21.61" font-weight="400" fill="#000" textLength="36.40" lengthAdjust="spacingAndGlyphs">237</text><text id="x235" x="186.24" y="496.00" font-size="21.61" font-weight="400" fill="#000" textLength="35.17" lengthAdjust="spacingAndGlyphs">235</text><text id="x233" x="263.02" y="496.00" font-size="21.61" font-weight="400" fill="#000" textLength="34.77" lengthAdjust="spacingAndGlyphs">233</text><text id="x231" x="339.72" y="496.00" font-size="21.61" font-weight="400" fill="#000" textLength="35.58" lengthAdjust="spacingAndGlyphs">231</text><text id="x229" x="416.54" y="496.00" font-size="21.61" font-weight="400" fill="#000" textLength="35.58" lengthAdjust="spacingAndGlyphs">229</text><text id="x227" x="493.95" y="496.00" font-size="21.61" font-weight="400" fill="#000" textLength="35.43" lengthAdjust="spacingAndGlyphs">227</text><text id="xlab" x="205.82" y="524.30" font-size="21.29" font-weight="400" fill="#000" textLength="175.91" lengthAdjust="spacingAndGlyphs">Binding Energy, eV</text><text id="ylab" x="0" y="0" transform="translate(37.80 299.93) rotate(-90)" font-size="20.60" font-weight="400" fill="#000" textLength="125.11" lengthAdjust="spacingAndGlyphs">Intensity, cps</text></svg></body></html>
